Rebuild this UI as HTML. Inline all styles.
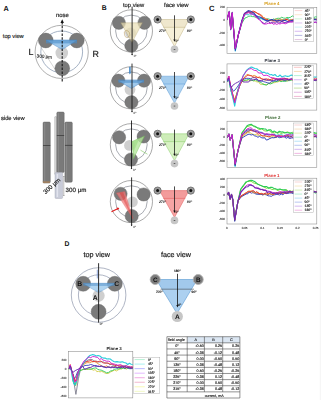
<!DOCTYPE html>
<html><head><meta charset="utf-8"><style>
html,body{margin:0;padding:0;background:#fff;width:324px;height:400px;overflow:hidden}
svg{position:absolute;left:0;top:0;display:block}
text{font-family:"Liberation Sans",sans-serif;paint-order:stroke;stroke:currentColor;text-rendering:geometricPrecision}
</style></head><body>
<div id="outer" style="position:absolute;left:0;top:0;width:324px;height:400px;overflow:hidden;filter:blur(0.3px)"><div id="wrap" style="position:absolute;left:0;top:0;width:1296px;height:1600px;transform:scale(0.25);transform-origin:0 0">
<svg width="1296" height="1600" viewBox="0 0 324 400">
<rect width="324" height="400" fill="#fff"/>
<text x="3.4" y="10.8" font-size="7.3" fill="#111" style="color:#111" stroke-width="0.000" text-anchor="start" font-weight="bold" >A</text>
<text x="101.8" y="10.1" font-size="6.8" fill="#111" style="color:#111" stroke-width="0.000" text-anchor="start" font-weight="bold" >B</text>
<text x="209.0" y="11.0" font-size="7.6" fill="#111" style="color:#111" stroke-width="0.000" text-anchor="start" font-weight="bold" >C</text>
<text x="64.6" y="245.6" font-size="6.8" fill="#111" style="color:#111" stroke-width="0.000" text-anchor="start" font-weight="bold" >D</text>
<text x="2.8" y="38.0" font-size="5.7" fill="#222" style="color:#222" stroke-width="0.171" text-anchor="start" font-weight="normal" >top view</text>
<circle cx="61.7" cy="51.9" r="26.6" fill="none" stroke="#8e8e8e" stroke-width="0.7"/>
<circle cx="61.7" cy="51.9" r="20.9" fill="none" stroke="#7e90aa" stroke-width="0.7"/>
<circle cx="61.8" cy="53" r="6.3" fill="#cfcfcf"/>
<line x1="40.3" y1="46.2" x2="55.2" y2="69.6" stroke="#888" stroke-width="0.35"/>
<circle cx="45.8" cy="40.5" r="7.4" fill="#7a7a7a" stroke="#666666" stroke-width="0.4"/>
<circle cx="76.8" cy="40.5" r="7.4" fill="#7a7a7a" stroke="#666666" stroke-width="0.4"/>
<circle cx="62.3" cy="68.3" r="7.4" fill="#7a7a7a" stroke="#666666" stroke-width="0.4"/>
<polygon points="46,40.2 77,40.2 62.2,49.6" fill="#8ebfe8" stroke="#3d7fc0" stroke-width="0.5" opacity="0.85"/>
<rect x="46" y="39.8" width="31" height="3.6" fill="#4a8cc8" opacity="0.6"/>
<line x1="62.2" y1="22" x2="62.2" y2="81.6" stroke="#111" stroke-width="1.05" stroke-dasharray="2.5 1.3"/>
<polygon points="60.5,23.0 63.9,23.0 62.2,19.2" fill="#111"/>
<text x="55.9" y="17.0" font-size="5.9" fill="#222" style="color:#222" stroke-width="0.177" text-anchor="start" font-weight="normal" >nose</text>
<text x="28.4" y="54.6" font-size="8.8" fill="#222" style="color:#222" stroke-width="0.200" text-anchor="start" font-weight="normal" >L</text>
<text x="92.4" y="56.6" font-size="8.8" fill="#222" style="color:#222" stroke-width="0.200" text-anchor="start" font-weight="normal" >R</text>
<text x="36.6" y="57.2" font-size="4.6" fill="#333" style="color:#333" stroke-width="0.138" text-anchor="start" font-weight="normal" transform="rotate(6 36.6 57.2)">300 μm</text>
<text x="1.0" y="120.1" font-size="5.75" fill="#222" style="color:#222" stroke-width="0.172" text-anchor="start" font-weight="normal" >side view</text>
<rect x="43.0" y="122.0" width="7.3" height="61.0" rx="1.2" fill="#7a7a7a" stroke="#5a5a5a" stroke-width="0.4"/>
<rect x="43.9" y="122.6" width="1.3" height="59.8" fill="#9a9a9a" opacity="0.45"/>
<line x1="43.0" y1="145.5" x2="50.3" y2="145.5" stroke="#333" stroke-width="0.7"/>
<rect x="64.9" y="122.0" width="7.4" height="60.19999999999999" rx="1.2" fill="#7a7a7a" stroke="#5a5a5a" stroke-width="0.4"/>
<rect x="65.80000000000001" y="122.6" width="1.3" height="58.999999999999986" fill="#9a9a9a" opacity="0.45"/>
<line x1="64.9" y1="145.4" x2="72.30000000000001" y2="145.4" stroke="#333" stroke-width="0.7"/>
<rect x="54.7" y="116.6" width="2.0" height="58" rx="0.6" fill="#d8d8d8" stroke="#8a8a8a" stroke-width="0.35"/>
<rect x="56.8" y="112.0" width="7.4" height="60.5" rx="1.2" fill="#7a7a7a" stroke="#5a5a5a" stroke-width="0.4"/>
<rect x="57.699999999999996" y="112.6" width="1.3" height="59.3" fill="#9a9a9a" opacity="0.45"/>
<line x1="56.8" y1="135.5" x2="64.2" y2="135.5" stroke="#333" stroke-width="0.7"/>
<rect x="55.0" y="172.5" width="7.6" height="26.0" rx="1" fill="#c9ccd9" stroke="#a0a2b0" stroke-width="0.4"/>
<rect x="56.6" y="174" width="1.5" height="23" fill="#e2e4ee"/>
<rect x="42.9" y="181.3" width="7.0" height="1.8" fill="#a08060"/>
<line x1="63.8" y1="176.5" x2="63.8" y2="195.5" stroke="#555" stroke-width="0.4"/>
<line x1="63.0" y1="176.5" x2="64.6" y2="176.5" stroke="#555" stroke-width="0.4"/>
<line x1="63.0" y1="195.5" x2="64.6" y2="195.5" stroke="#555" stroke-width="0.4"/>
<text x="65.6" y="192.2" font-size="6.2" fill="#222" style="color:#222" stroke-width="0.186" text-anchor="start" font-weight="normal" >300 μm</text>
<text x="45.6" y="194.2" font-size="6.1" fill="#222" style="color:#222" stroke-width="0.183" text-anchor="start" font-weight="normal" transform="rotate(-42 45.6 194.2)">300 μm</text>
<text x="123.0" y="6.6" font-size="5.8" fill="#222" style="color:#222" stroke-width="0.174" text-anchor="start" font-weight="normal" >top view</text>
<text x="164.0" y="6.5" font-size="5.9" fill="#222" style="color:#222" stroke-width="0.177" text-anchor="start" font-weight="normal" >face view</text>
<circle cx="131.4" cy="30.9" r="21.1" fill="none" stroke="#7a7a7a" stroke-width="0.65"/>
<circle cx="131.4" cy="30.9" r="15.8" fill="none" stroke="#7a7f8a" stroke-width="0.65"/>
<circle cx="130.5" cy="33.0" r="5.4" fill="#cfcfcf"/>
<circle cx="118.9" cy="22.799999999999997" r="6.6" fill="#7a7a7a" stroke="#666666" stroke-width="0.4"/>
<circle cx="144.4" cy="22.799999999999997" r="6.6" fill="#7a7a7a" stroke="#666666" stroke-width="0.4"/>
<circle cx="131.3" cy="45.7" r="6.6" fill="#7a7a7a" stroke="#666666" stroke-width="0.4"/>
<polygon points="120.8,22.799999999999997 142.4,22.799999999999997 132.0,42.4" fill="#eadfb4" stroke="#a89868" stroke-width="0.45" opacity="0.72"/>
<path d="M124.3,31.9 q2.5,-3 5,0.5 q2,3.5 -1.5,5 q-3.5,1 -3.5,-5.5" fill="none" stroke="#b09050" stroke-width="0.5"/>
<line x1="132.1" y1="6.6" x2="132.1" y2="54.5" stroke="#111" stroke-width="0.85"/>
<polygon points="131.2,54.099999999999994 133.0,54.099999999999994 132.1,55.5" fill="#111"/>
<text x="133.7" y="57.3" font-size="3.0" fill="#555" style="color:#555" stroke-width="0.100" text-anchor="start" font-weight="normal" >0°</text>
<polygon points="159.5,19.5 189.0,19.5 174.5,46.3" fill="#f6f0d8" stroke="#c0b080" stroke-width="0.5"/>
<polygon points="159.5,19.5 189.0,19.5 184.7,27.2 163.8,27.2" fill="#c0b080" opacity="0.12"/>
<line x1="163.2" y1="27.3" x2="185.3" y2="27.3" stroke="#c0b080" stroke-width="0.5"/>
<circle cx="157.6" cy="19.5" r="3.6" fill="#9c9c9c" stroke="#707070" stroke-width="0.9"/>
<circle cx="157.6" cy="19.5" r="1.5" fill="#111"/>
<circle cx="190.8" cy="19.5" r="3.6" fill="#9c9c9c" stroke="#707070" stroke-width="0.9"/>
<circle cx="190.8" cy="19.5" r="1.5" fill="#111"/>
<circle cx="174.5" cy="49.3" r="3.8" fill="#c6c6c6"/>
<rect x="173.7" y="49.0" width="1.6" height="0.7" fill="#333"/>
<line x1="174.5" y1="15.3" x2="174.5" y2="40.5" stroke="#111" stroke-width="0.75"/>
<polygon points="173.3,39.5 175.7,39.5 174.5,41.8" fill="#111"/>
<text x="158.9" y="32.1" font-size="3.5" fill="#111" style="color:#111" stroke-width="0.000" text-anchor="start" font-weight="bold" font-style="italic">270°</text>
<text x="186.8" y="32.1" font-size="3.5" fill="#111" style="color:#111" stroke-width="0.000" text-anchor="start" font-weight="bold" font-style="italic">90°</text>
<text x="175.4" y="42.1" font-size="3.4" fill="#111" style="color:#111" stroke-width="0.000" text-anchor="start" font-weight="bold" font-style="italic">0°</text>
<circle cx="131.4" cy="87.8" r="21.1" fill="none" stroke="#7a7a7a" stroke-width="0.65"/>
<circle cx="131.4" cy="87.8" r="15.8" fill="none" stroke="#7a7f8a" stroke-width="0.65"/>
<circle cx="130.0" cy="89.6" r="5.4" fill="#cfcfcf"/>
<circle cx="118.4" cy="80.7" r="6.6" fill="#7a7a7a" stroke="#666666" stroke-width="0.4"/>
<circle cx="144.0" cy="80.7" r="6.6" fill="#7a7a7a" stroke="#666666" stroke-width="0.4"/>
<circle cx="131.4" cy="102.2" r="6.6" fill="#7a7a7a" stroke="#666666" stroke-width="0.4"/>
<polygon points="118.4,80.7 144.0,80.7 131.4,88.39999999999999" fill="#8ebfe8" stroke="#3d7fc0" stroke-width="0.5" opacity="0.85"/>
<rect x="118.4" y="79.5" width="25.599999999999994" height="3.4" fill="#4a8cc8" opacity="0.55"/>
<line x1="129.9" y1="66.8" x2="129.9" y2="72.8" stroke="#4a8cc8" stroke-width="1.6"/>
<polygon points="128.6,72.3 131.2,72.3 129.9,74.39999999999999" fill="#4a8cc8"/>
<line x1="132.0" y1="63.599999999999994" x2="132.0" y2="111.4" stroke="#111" stroke-width="0.85"/>
<polygon points="131.1,111.0 132.9,111.0 132.0,112.4" fill="#111"/>
<text x="133.6" y="114.19999999999999" font-size="3.0" fill="#555" style="color:#555" stroke-width="0.100" text-anchor="start" font-weight="normal" >0°</text>
<polygon points="159.5,76.2 189.0,76.2 174.5,103.0" fill="#b0d4f2" stroke="#5a9ad4" stroke-width="0.5"/>
<polygon points="159.5,76.2 189.0,76.2 184.7,83.9 163.8,83.9" fill="#5a9ad4" opacity="0.12"/>
<line x1="163.2" y1="84.0" x2="185.3" y2="84.0" stroke="#5a9ad4" stroke-width="0.5"/>
<circle cx="157.6" cy="76.2" r="3.6" fill="#9c9c9c" stroke="#707070" stroke-width="0.9"/>
<circle cx="157.6" cy="76.2" r="1.5" fill="#111"/>
<circle cx="190.8" cy="76.2" r="3.6" fill="#9c9c9c" stroke="#707070" stroke-width="0.9"/>
<circle cx="190.8" cy="76.2" r="1.5" fill="#111"/>
<circle cx="174.5" cy="106.0" r="3.8" fill="#c6c6c6"/>
<rect x="173.7" y="105.7" width="1.6" height="0.7" fill="#333"/>
<line x1="174.5" y1="72.0" x2="174.5" y2="97.2" stroke="#111" stroke-width="0.75"/>
<polygon points="173.3,96.2 175.7,96.2 174.5,98.5" fill="#111"/>
<text x="158.9" y="88.8" font-size="3.5" fill="#111" style="color:#111" stroke-width="0.000" text-anchor="start" font-weight="bold" font-style="italic">270°</text>
<text x="186.8" y="88.8" font-size="3.5" fill="#111" style="color:#111" stroke-width="0.000" text-anchor="start" font-weight="bold" font-style="italic">90°</text>
<text x="175.4" y="98.80000000000001" font-size="3.4" fill="#111" style="color:#111" stroke-width="0.000" text-anchor="start" font-weight="bold" font-style="italic">0°</text>
<circle cx="131.4" cy="144.7" r="21.1" fill="none" stroke="#7a7a7a" stroke-width="0.65"/>
<circle cx="131.4" cy="144.7" r="15.8" fill="none" stroke="#7a7f8a" stroke-width="0.65"/>
<circle cx="129.5" cy="145.39999999999998" r="5.4" fill="#cfcfcf"/>
<circle cx="119.1" cy="137.29999999999998" r="6.6" fill="#7a7a7a" stroke="#666666" stroke-width="0.4"/>
<circle cx="143.6" cy="136.5" r="6.6" fill="#7a7a7a" stroke="#666666" stroke-width="0.4"/>
<circle cx="131.0" cy="159.5" r="6.6" fill="#7a7a7a" stroke="#666666" stroke-width="0.4"/>
<polygon points="132.2,141.5 144.5,135.89999999999998 133.4,158.89999999999998" fill="#b4e69c" stroke="#6cc04c" stroke-width="0.5" opacity="0.78"/>
<polygon points="132.2,141.5 139.5,138.2 133.0,153.2" fill="#8ed870" opacity="0.45"/>
<line x1="140.5" y1="150.2" x2="147.5" y2="154.2" stroke="#80c860" stroke-width="0.6"/>
<line x1="131.5" y1="120.49999999999999" x2="131.5" y2="168.29999999999998" stroke="#111" stroke-width="0.85"/>
<polygon points="130.6,167.89999999999998 132.4,167.89999999999998 131.5,169.29999999999998" fill="#111"/>
<text x="133.1" y="171.1" font-size="3.0" fill="#555" style="color:#555" stroke-width="0.100" text-anchor="start" font-weight="normal" >0°</text>
<polygon points="159.5,133.8 189.0,133.8 174.5,160.60000000000002" fill="#d8f2c4" stroke="#88cc68" stroke-width="0.5"/>
<polygon points="159.5,133.8 189.0,133.8 184.7,141.5 163.8,141.5" fill="#88cc68" opacity="0.12"/>
<line x1="163.2" y1="141.60000000000002" x2="185.3" y2="141.60000000000002" stroke="#88cc68" stroke-width="0.5"/>
<circle cx="157.6" cy="133.8" r="3.6" fill="#9c9c9c" stroke="#707070" stroke-width="0.9"/>
<circle cx="157.6" cy="133.8" r="1.5" fill="#111"/>
<circle cx="190.8" cy="133.8" r="3.6" fill="#9c9c9c" stroke="#707070" stroke-width="0.9"/>
<circle cx="190.8" cy="133.8" r="1.5" fill="#111"/>
<circle cx="174.5" cy="163.60000000000002" r="3.8" fill="#c6c6c6"/>
<rect x="173.7" y="163.3" width="1.6" height="0.7" fill="#333"/>
<line x1="174.5" y1="129.60000000000002" x2="174.5" y2="154.8" stroke="#111" stroke-width="0.75"/>
<polygon points="173.3,153.8 175.7,153.8 174.5,156.10000000000002" fill="#111"/>
<text x="158.9" y="146.4" font-size="3.5" fill="#111" style="color:#111" stroke-width="0.000" text-anchor="start" font-weight="bold" font-style="italic">270°</text>
<text x="186.8" y="146.4" font-size="3.5" fill="#111" style="color:#111" stroke-width="0.000" text-anchor="start" font-weight="bold" font-style="italic">90°</text>
<text x="175.4" y="156.4" font-size="3.4" fill="#111" style="color:#111" stroke-width="0.000" text-anchor="start" font-weight="bold" font-style="italic">0°</text>
<circle cx="131.4" cy="201.6" r="21.1" fill="none" stroke="#7a7a7a" stroke-width="0.65"/>
<circle cx="131.4" cy="201.6" r="15.8" fill="none" stroke="#7a7f8a" stroke-width="0.65"/>
<circle cx="132.4" cy="201.9" r="5.4" fill="#cfcfcf"/>
<circle cx="120.6" cy="193.79999999999998" r="6.6" fill="#7a7a7a" stroke="#666666" stroke-width="0.4"/>
<circle cx="143.6" cy="194.5" r="6.6" fill="#7a7a7a" stroke="#666666" stroke-width="0.4"/>
<circle cx="131.7" cy="216.0" r="6.6" fill="#7a7a7a" stroke="#666666" stroke-width="0.4"/>
<polygon points="116.4,193.0 124.8,191.6 133.0,218.79999999999998" fill="#f07a7a" stroke="#e04848" stroke-width="0.4" opacity="0.72"/>
<polygon points="119.5,192.79999999999998 123.2,192.2 132.6,218.1" fill="#d82020" opacity="0.35"/>
<line x1="111.5" y1="211.79999999999998" x2="117.6" y2="208.79999999999998" stroke="#e01818" stroke-width="1.1"/>
<polygon points="116.6,207.4 119.4,208.0 117.8,210.2" fill="#e01818"/>
<line x1="131.6" y1="177.4" x2="131.6" y2="225.2" stroke="#111" stroke-width="0.85"/>
<polygon points="130.7,224.79999999999998 132.5,224.79999999999998 131.6,226.2" fill="#111"/>
<text x="133.2" y="228.0" font-size="3.0" fill="#555" style="color:#555" stroke-width="0.100" text-anchor="start" font-weight="normal" >0°</text>
<polygon points="159.5,190.6 189.0,190.6 174.5,217.4" fill="#f6a4a4" stroke="#e05858" stroke-width="0.5"/>
<polygon points="159.5,190.6 189.0,190.6 184.7,198.29999999999998 163.8,198.29999999999998" fill="#e05858" opacity="0.12"/>
<line x1="163.2" y1="198.4" x2="185.3" y2="198.4" stroke="#e05858" stroke-width="0.5"/>
<circle cx="157.6" cy="190.6" r="3.6" fill="#9c9c9c" stroke="#707070" stroke-width="0.9"/>
<circle cx="157.6" cy="190.6" r="1.5" fill="#111"/>
<circle cx="190.8" cy="190.6" r="3.6" fill="#9c9c9c" stroke="#707070" stroke-width="0.9"/>
<circle cx="190.8" cy="190.6" r="1.5" fill="#111"/>
<circle cx="174.5" cy="220.4" r="3.8" fill="#c6c6c6"/>
<rect x="173.7" y="220.1" width="1.6" height="0.7" fill="#333"/>
<line x1="174.5" y1="186.4" x2="174.5" y2="211.6" stroke="#111" stroke-width="0.75"/>
<polygon points="173.3,210.6 175.7,210.6 174.5,212.9" fill="#111"/>
<text x="158.9" y="203.2" font-size="3.5" fill="#111" style="color:#111" stroke-width="0.000" text-anchor="start" font-weight="bold" font-style="italic">270°</text>
<text x="186.8" y="203.2" font-size="3.5" fill="#111" style="color:#111" stroke-width="0.000" text-anchor="start" font-weight="bold" font-style="italic">90°</text>
<text x="175.4" y="213.2" font-size="3.4" fill="#111" style="color:#111" stroke-width="0.000" text-anchor="start" font-weight="bold" font-style="italic">0°</text>
<line x1="320.3" y1="0" x2="320.3" y2="400" stroke="#ededed" stroke-width="0.6"/>
<rect x="227.0" y="7.3" width="89.80000000000001" height="46.300000000000004" fill="#fff" stroke="#8a8a8a" stroke-width="0.55"/>
<text x="225.0" y="8.35" font-size="3.0" fill="#333" style="color:#333" stroke-width="0.100" text-anchor="end" font-weight="normal" >200</text>
<line x1="227.0" y1="7.3" x2="227.8" y2="7.3" stroke="#999" stroke-width="0.3"/>
<text x="225.0" y="21.05" font-size="3.0" fill="#333" style="color:#333" stroke-width="0.100" text-anchor="end" font-weight="normal" >0</text>
<line x1="227.0" y1="20.0" x2="227.8" y2="20.0" stroke="#999" stroke-width="0.3"/>
<text x="225.0" y="33.65" font-size="3.0" fill="#333" style="color:#333" stroke-width="0.100" text-anchor="end" font-weight="normal" >-200</text>
<line x1="227.0" y1="32.6" x2="227.8" y2="32.6" stroke="#999" stroke-width="0.3"/>
<text x="225.0" y="46.349999999999994" font-size="3.0" fill="#333" style="color:#333" stroke-width="0.100" text-anchor="end" font-weight="normal" >-400</text>
<line x1="227.0" y1="45.3" x2="227.8" y2="45.3" stroke="#999" stroke-width="0.3"/>
<text x="264.2" y="4.9" font-size="4.4" fill="#d8a020" style="color:#d8a020" stroke-width="0.000" text-anchor="start" font-weight="bold" >Plane 4</text>
<clipPath id="p4"><rect x="227.0" y="7.3" width="89.80000000000001" height="46.300000000000004"/></clipPath>
<g clip-path="url(#p4)" fill="none" stroke-width="0.9" stroke-linejoin="round">
<path d="M227.00,19.50 L229.20,12.60 L230.70,28.40 L232.20,13.60 L235.30,48.10 L238.30,35.00 L240.15,29.00 L242.00,23.00 L245.00,18.00 L246.90,17.37 L248.80,16.21 L250.70,16.10 L252.33,16.59 L253.97,16.64 L255.60,17.30 L257.20,17.93 L258.80,18.40 L260.40,17.71 L262.00,19.00 L263.60,18.13 L265.20,19.87 L266.80,18.82 L268.40,18.87 L270.00,19.50 L271.62,20.24 L273.25,18.94 L274.88,19.42 L276.50,18.50 L278.25,18.26 L280.00,18.40 L281.75,17.23 L283.50,18.01 L285.25,18.29 L287.00,17.41 L288.75,17.65 L290.50,17.32 L292.25,15.92 L294.00,16.60 L295.64,17.15 L297.29,16.84 L298.93,16.29 L300.57,15.78 L302.21,17.47 L303.86,16.72 L305.50,17.24 L307.14,17.59 L308.79,17.29 L310.43,17.73 L312.07,16.70 L313.71,17.54 L315.36,16.86 L317.00,17.00" stroke="#22c852" stroke-width="0.9" opacity="0.95"/>
<path d="M227.00,19.50 L229.20,12.80 L230.70,28.20 L232.20,13.80 L235.30,51.30 L238.30,35.00 L240.15,28.50 L242.00,22.00 L244.50,15.00 L246.33,14.50 L248.17,14.87 L250.00,13.50 L251.60,14.96 L253.20,14.09 L254.80,14.87 L256.40,15.73 L258.00,17.00 L259.60,18.73 L261.20,18.47 L262.80,19.65 L264.40,19.80 L266.00,21.00 L267.75,20.76 L269.50,20.27 L271.25,19.95 L273.00,20.17 L274.75,19.92 L276.50,20.31 L278.25,19.61 L280.00,19.00 L281.61,19.86 L283.22,19.71 L284.83,19.98 L286.43,19.34 L288.04,18.33 L289.65,19.72 L291.26,19.93 L292.87,19.81 L294.48,19.14 L296.09,19.43 L297.70,18.42 L299.30,19.66 L300.91,19.15 L302.52,18.57 L304.13,18.13 L305.74,19.71 L307.35,19.98 L308.96,18.18 L310.57,19.60 L312.17,18.82 L313.78,18.30 L315.39,18.59 L317.00,19.00" stroke="#20c8d8" stroke-width="0.9" opacity="0.95"/>
<path d="M227.00,19.50 L229.20,11.50 L230.70,29.50 L232.20,12.50 L235.30,49.00 L238.30,35.00 L240.15,28.00 L242.00,21.00 L244.50,14.00 L246.25,13.00 L248.00,12.00 L250.00,12.54 L252.00,12.75 L254.00,12.00 L256.00,12.09 L258.00,14.23 L260.00,15.00 L261.60,15.09 L263.20,17.44 L264.80,17.66 L266.40,19.76 L268.00,20.00 L269.63,20.94 L271.27,19.98 L272.90,20.95 L274.53,19.55 L276.17,19.07 L277.80,20.10 L279.43,18.95 L281.07,19.26 L282.70,19.67 L284.33,20.05 L285.97,19.13 L287.60,18.88 L289.23,20.52 L290.87,19.39 L292.50,20.67 L294.13,20.53 L295.77,19.47 L297.40,19.62 L299.03,19.72 L300.67,19.95 L302.30,19.84 L303.93,19.75 L305.57,19.86 L307.20,20.48 L308.83,19.60 L310.47,19.43 L312.10,19.99 L313.73,19.01 L315.37,19.12 L317.00,19.50" stroke="#e88a20" stroke-width="0.9" opacity="0.95"/>
<path d="M227.00,19.50 L229.20,12.30 L230.70,28.70 L232.20,13.30 L235.30,48.90 L238.30,35.00 L240.15,28.00 L242.00,21.00 L244.50,13.60 L246.50,12.55 L248.50,11.50 L250.27,12.36 L252.03,11.34 L253.80,11.20 L255.90,12.50 L258.00,13.60 L259.85,14.15 L261.70,16.48 L263.55,18.33 L265.40,19.70 L267.00,18.96 L268.60,20.36 L270.20,20.61 L271.80,19.69 L273.40,21.04 L275.00,21.00 L276.73,20.84 L278.45,21.18 L280.18,20.43 L281.91,21.05 L283.64,21.02 L285.36,19.50 L287.09,19.48 L288.82,20.62 L290.55,21.11 L292.27,19.59 L294.00,20.00 L295.64,19.84 L297.29,20.04 L298.93,19.43 L300.57,19.44 L302.21,19.27 L303.86,19.31 L305.50,19.69 L307.14,19.03 L308.79,19.11 L310.43,19.83 L312.07,18.27 L313.71,19.28 L315.36,19.54 L317.00,19.00" stroke="#e82828" stroke-width="1.0" opacity="0.95"/>
<path d="M227.00,19.50 L229.20,11.40 L230.70,29.60 L232.20,12.40 L235.30,50.30 L238.30,35.00 L240.15,27.50 L242.00,20.00 L244.50,13.60 L246.35,12.10 L248.20,10.60 L250.10,10.92 L252.00,12.00 L254.00,12.98 L256.00,15.67 L258.00,16.60 L259.85,17.00 L261.70,17.82 L263.55,19.25 L265.40,20.30 L267.70,20.70 L270.00,20.30 L271.67,19.59 L273.33,20.11 L275.00,20.22 L276.67,21.30 L278.33,20.59 L280.00,20.80 L281.75,21.54 L283.50,20.19 L285.25,20.55 L287.00,21.20 L288.75,21.69 L290.50,20.85 L292.25,20.43 L294.00,21.00 L295.64,20.17 L297.29,20.92 L298.93,20.17 L300.57,21.33 L302.21,21.32 L303.86,19.94 L305.50,20.06 L307.14,21.04 L308.79,20.64 L310.43,20.90 L312.07,19.90 L313.71,19.40 L315.36,19.66 L317.00,20.00" stroke="#2a3ab8" stroke-width="1.1" opacity="0.95"/>
<path d="M227.00,19.50 L229.20,12.00 L230.70,29.00 L232.20,13.00 L235.30,48.70 L238.30,35.00 L240.15,28.00 L242.00,21.00 L244.50,13.00 L246.75,12.25 L249.00,11.50 L250.75,13.21 L252.50,13.29 L254.25,14.57 L256.00,16.00 L257.75,17.58 L259.50,19.34 L261.25,21.07 L263.00,23.00 L264.80,23.64 L266.60,21.91 L268.40,21.41 L270.20,23.09 L272.00,22.00 L273.64,22.76 L275.27,22.97 L276.91,21.87 L278.55,22.90 L280.18,22.85 L281.82,21.44 L283.45,22.49 L285.09,22.67 L286.73,22.33 L288.36,22.04 L290.00,22.00 L291.69,21.64 L293.38,21.81 L295.06,21.64 L296.75,21.39 L298.44,22.49 L300.12,21.95 L301.81,23.06 L303.50,21.59 L305.19,23.37 L306.88,23.01 L308.56,23.54 L310.25,23.54 L311.94,23.61 L313.62,23.03 L315.31,21.96 L317.00,23.00" stroke="#6a28b0" stroke-width="1.0" opacity="0.95"/>
<path d="M227.00,19.50 L229.20,11.70 L230.70,29.30 L232.20,12.70 L235.30,48.40 L238.30,35.00 L240.15,28.50 L242.00,22.00 L244.50,14.50 L246.75,13.50 L249.00,12.50 L250.75,14.12 L252.50,14.09 L254.25,15.47 L256.00,17.00 L257.64,18.73 L259.28,19.85 L260.92,21.03 L262.56,23.48 L264.20,24.00 L266.23,24.02 L268.27,23.28 L270.30,23.40 L271.92,23.00 L273.53,24.32 L275.15,23.65 L276.77,24.36 L278.38,23.60 L280.00,24.00 L281.90,23.09 L283.80,23.47 L285.70,23.73 L287.60,22.80 L289.73,21.54 L291.87,22.18 L294.00,21.00 L295.64,21.91 L297.29,21.75 L298.93,21.86 L300.57,20.30 L302.21,21.61 L303.86,22.15 L305.50,20.60 L307.14,21.11 L308.79,21.18 L310.43,21.77 L312.07,21.63 L313.71,21.80 L315.36,22.48 L317.00,22.00" stroke="#d020d0" stroke-width="1.0" opacity="0.95"/>
</g>
<rect x="293.6" y="8.5" width="20.19999999999999" height="33.1" fill="#fff" stroke="#a0a0a0" stroke-width="0.4"/>
<line x1="294.70000000000005" y1="10.56875" x2="302.286" y2="10.56875" stroke="#f0a0a0" stroke-width="0.45"/>
<text x="304.71000000000004" y="11.768749999999999" font-size="3.4" fill="#111" style="color:#111" stroke-width="0.140" text-anchor="start" font-weight="normal" >45°</text>
<line x1="294.70000000000005" y1="14.70625" x2="302.286" y2="14.70625" stroke="#f8c890" stroke-width="0.45"/>
<text x="304.71000000000004" y="15.90625" font-size="3.4" fill="#111" style="color:#111" stroke-width="0.140" text-anchor="start" font-weight="normal" >90°</text>
<line x1="294.70000000000005" y1="18.84375" x2="302.286" y2="18.84375" stroke="#90e8a0" stroke-width="0.45"/>
<text x="304.71000000000004" y="20.04375" font-size="3.4" fill="#111" style="color:#111" stroke-width="0.140" text-anchor="start" font-weight="normal" >135°</text>
<line x1="294.70000000000005" y1="22.981250000000003" x2="302.286" y2="22.981250000000003" stroke="#b080e0" stroke-width="0.45"/>
<text x="304.71000000000004" y="24.181250000000002" font-size="3.4" fill="#111" style="color:#111" stroke-width="0.140" text-anchor="start" font-weight="normal" >180°</text>
<line x1="294.70000000000005" y1="27.118750000000002" x2="302.286" y2="27.118750000000002" stroke="#90e8f0" stroke-width="0.45"/>
<text x="304.71000000000004" y="28.31875" font-size="3.4" fill="#111" style="color:#111" stroke-width="0.140" text-anchor="start" font-weight="normal" >225°</text>
<line x1="294.70000000000005" y1="31.25625" x2="302.286" y2="31.25625" stroke="#a060e0" stroke-width="0.45"/>
<text x="304.71000000000004" y="32.456250000000004" font-size="3.4" fill="#111" style="color:#111" stroke-width="0.140" text-anchor="start" font-weight="normal" >270°</text>
<line x1="294.70000000000005" y1="35.39375" x2="302.286" y2="35.39375" stroke="#6060c0" stroke-width="0.45"/>
<text x="304.71000000000004" y="36.59375" font-size="3.4" fill="#111" style="color:#111" stroke-width="0.140" text-anchor="start" font-weight="normal" >315°</text>
<line x1="294.70000000000005" y1="39.53125" x2="302.286" y2="39.53125" stroke="#c080c0" stroke-width="0.45"/>
<text x="304.71000000000004" y="40.73125" font-size="3.4" fill="#111" style="color:#111" stroke-width="0.140" text-anchor="start" font-weight="normal" >0°</text>
<rect x="227.0" y="63.9" width="89.80000000000001" height="46.199999999999996" fill="#fff" stroke="#8a8a8a" stroke-width="0.55"/>
<text x="225.0" y="74.05" font-size="3.0" fill="#333" style="color:#333" stroke-width="0.100" text-anchor="end" font-weight="normal" >200</text>
<line x1="227.0" y1="73.0" x2="227.8" y2="73.0" stroke="#999" stroke-width="0.3"/>
<text x="225.0" y="82.64999999999999" font-size="3.0" fill="#333" style="color:#333" stroke-width="0.100" text-anchor="end" font-weight="normal" >0</text>
<line x1="227.0" y1="81.6" x2="227.8" y2="81.6" stroke="#999" stroke-width="0.3"/>
<text x="225.0" y="91.45" font-size="3.0" fill="#333" style="color:#333" stroke-width="0.100" text-anchor="end" font-weight="normal" >-200</text>
<line x1="227.0" y1="90.4" x2="227.8" y2="90.4" stroke="#999" stroke-width="0.3"/>
<text x="225.0" y="100.45" font-size="3.0" fill="#333" style="color:#333" stroke-width="0.100" text-anchor="end" font-weight="normal" >-400</text>
<line x1="227.0" y1="99.4" x2="227.8" y2="99.4" stroke="#999" stroke-width="0.3"/>
<text x="225.0" y="109.35" font-size="3.0" fill="#333" style="color:#333" stroke-width="0.100" text-anchor="end" font-weight="normal" >-600</text>
<line x1="227.0" y1="108.3" x2="227.8" y2="108.3" stroke="#999" stroke-width="0.3"/>
<text x="264.5" y="62.3" font-size="4.4" fill="#2a2f3a" style="color:#2a2f3a" stroke-width="0.000" text-anchor="start" font-weight="bold" >Plane 3</text>
<clipPath id="p3"><rect x="227.0" y="63.9" width="89.80000000000001" height="46.199999999999996"/></clipPath>
<g clip-path="url(#p3)" fill="none" stroke-width="0.9" stroke-linejoin="round">
<path d="M227.00,82.00 L229.00,80.00 L230.80,90.00 L232.80,96.00 L234.50,101.00 L236.00,96.00 L238.00,89.00 L241.20,82.00 L243.10,81.25 L245.00,80.50 L246.67,80.67 L248.33,79.84 L250.00,81.00 L251.75,80.36 L253.50,80.75 L255.25,81.00 L257.00,82.00 L258.60,81.74 L260.20,84.15 L261.80,84.51 L263.40,83.57 L265.00,85.00 L266.83,84.50 L268.67,83.63 L270.50,83.13 L272.33,82.70 L274.17,82.79 L276.00,82.00 L277.67,81.95 L279.33,81.28 L281.00,80.72 L282.67,80.77 L284.33,80.14 L286.00,80.78 L287.67,80.88 L289.33,79.98 L291.00,80.00 L292.62,79.16 L294.25,79.36 L295.88,79.75 L297.50,80.21 L299.12,80.57 L300.75,79.76 L302.38,80.60 L304.00,80.25 L305.62,79.86 L307.25,79.74 L308.88,79.99 L310.50,80.41 L312.12,79.84 L313.75,80.39 L315.38,79.92 L317.00,80.00" stroke="#d0c838" stroke-width="0.9" opacity="0.95"/>
<path d="M227.00,82.00 L229.00,80.00 L230.80,90.00 L232.80,97.00 L234.50,103.00 L236.00,97.00 L238.00,90.00 L241.20,82.00 L243.10,81.00 L245.00,80.00 L246.67,80.00 L248.33,79.49 L250.00,80.00 L251.82,80.27 L253.65,80.79 L255.48,79.74 L257.30,80.80 L259.23,81.62 L261.15,82.60 L263.07,84.48 L265.00,84.70 L266.82,85.06 L268.63,83.42 L270.45,83.95 L272.27,83.22 L274.08,81.64 L275.90,81.60 L277.58,81.35 L279.26,80.49 L280.93,81.69 L282.61,81.21 L284.29,81.49 L285.97,81.12 L287.64,80.69 L289.32,80.65 L291.00,80.00 L292.62,80.13 L294.25,79.21 L295.88,80.18 L297.50,79.01 L299.12,79.29 L300.75,80.55 L302.38,79.09 L304.00,79.18 L305.62,79.20 L307.25,80.76 L308.88,79.36 L310.50,79.05 L312.12,80.68 L313.75,79.24 L315.38,80.69 L317.00,80.00" stroke="#22c852" stroke-width="0.9" opacity="0.95"/>
<path d="M227.00,81.40 L229.00,78.00 L230.50,86.00 L233.00,95.00 L234.70,100.00 L237.00,93.00 L240.00,85.00 L243.00,79.00 L245.00,76.65 L247.00,74.30 L248.82,74.92 L250.65,75.52 L252.48,76.03 L254.30,75.40 L256.08,76.32 L257.87,77.53 L259.65,76.77 L261.43,79.00 L263.22,79.26 L265.00,80.00 L266.67,80.26 L268.33,78.88 L270.00,80.00 L271.67,80.20 L273.33,78.29 L275.00,79.00 L276.60,78.70 L278.20,79.23 L279.80,79.81 L281.40,78.68 L283.00,78.61 L284.60,78.80 L286.20,79.58 L287.80,79.91 L289.40,79.24 L291.00,79.50 L292.62,79.27 L294.25,79.36 L295.88,79.29 L297.50,79.46 L299.12,78.82 L300.75,79.69 L302.38,80.66 L304.00,79.58 L305.62,80.28 L307.25,79.13 L308.88,80.23 L310.50,80.39 L312.12,80.25 L313.75,79.97 L315.38,79.94 L317.00,80.00" stroke="#e88a20" stroke-width="0.9" opacity="0.95"/>
<path d="M227.00,81.40 L228.90,79.00 L230.50,86.00 L233.40,91.20 L235.00,90.00 L238.00,86.00 L241.00,81.00 L243.00,79.75 L245.00,78.50 L246.93,78.30 L248.85,78.39 L250.77,78.69 L252.70,77.70 L254.50,77.65 L256.30,78.19 L258.10,80.15 L259.90,81.13 L261.70,80.98 L263.50,81.60 L265.75,82.19 L268.00,83.00 L269.71,83.01 L271.43,81.52 L273.14,81.25 L274.86,80.68 L276.57,81.03 L278.29,80.06 L280.00,80.00 L281.83,79.38 L283.67,80.22 L285.50,80.66 L287.33,79.26 L289.17,79.99 L291.00,79.50 L292.62,79.36 L294.25,80.27 L295.88,79.76 L297.50,79.16 L299.12,79.09 L300.75,78.73 L302.38,79.68 L304.00,79.52 L305.62,79.13 L307.25,79.53 L308.88,79.49 L310.50,80.42 L312.12,79.19 L313.75,80.92 L315.38,79.93 L317.00,80.00" stroke="#2a3ab8" stroke-width="0.9" opacity="0.95"/>
<path d="M227.00,81.00 L228.90,76.20 L230.50,86.00 L233.40,97.00 L234.70,102.00 L237.30,93.00 L239.90,85.00 L243.00,79.00 L244.67,77.67 L246.33,76.33 L248.00,75.00 L249.60,75.60 L251.20,75.74 L252.80,76.87 L254.40,77.24 L256.00,77.00 L257.80,77.51 L259.60,77.76 L261.40,78.64 L263.20,79.31 L265.00,79.00 L266.62,78.82 L268.25,79.50 L269.88,79.98 L271.50,79.01 L273.12,78.55 L274.75,78.58 L276.38,79.57 L278.00,79.50 L279.62,80.09 L281.25,79.90 L282.88,78.69 L284.50,78.60 L286.12,78.76 L287.75,78.64 L289.38,79.69 L291.00,79.30 L292.62,80.00 L294.25,80.06 L295.88,78.75 L297.50,79.96 L299.12,78.83 L300.75,79.03 L302.38,79.63 L304.00,78.32 L305.62,78.32 L307.25,79.78 L308.88,78.68 L310.50,78.79 L312.12,79.22 L313.75,79.39 L315.38,78.03 L317.00,79.00" stroke="#e82828" stroke-width="0.9" opacity="0.95"/>
<path d="M227.00,81.40 L228.90,79.00 L230.80,89.90 L232.80,97.70 L234.70,106.10 L236.00,99.00 L238.00,89.90 L241.20,80.80 L243.20,76.00 L244.80,73.20 L246.40,70.40 L248.80,68.37 L251.20,67.00 L253.04,67.63 L254.88,68.49 L256.72,68.70 L258.56,70.21 L260.40,70.80 L262.26,72.49 L264.12,72.14 L265.98,73.23 L267.84,73.16 L269.70,74.70 L271.44,74.44 L273.18,75.41 L274.91,74.49 L276.65,76.22 L278.39,76.46 L280.12,75.02 L281.86,76.90 L283.60,76.20 L285.44,75.79 L287.28,76.42 L289.12,76.23 L290.96,75.15 L292.80,75.40 L294.41,75.86 L296.03,75.92 L297.64,76.33 L299.25,75.36 L300.87,76.44 L302.48,76.96 L304.09,76.49 L305.71,76.33 L307.32,75.59 L308.93,76.45 L310.55,76.28 L312.16,77.12 L313.77,77.14 L315.39,77.03 L317.00,77.00" stroke="#20c8d8" stroke-width="1.1" opacity="0.95"/>
<path d="M227.00,81.40 L228.90,76.20 L230.50,86.00 L233.40,97.70 L234.70,102.90 L237.30,93.80 L239.90,84.70 L241.55,80.15 L243.20,75.60 L244.80,73.30 L246.40,71.00 L248.80,69.11 L251.20,68.50 L252.92,69.65 L254.65,70.49 L256.38,70.45 L258.10,72.73 L259.82,73.12 L261.55,72.92 L263.27,75.40 L265.00,75.40 L266.82,75.20 L268.63,76.10 L270.45,77.39 L272.27,77.66 L274.08,78.09 L275.90,78.50 L277.61,78.88 L279.32,78.59 L281.03,78.39 L282.74,78.21 L284.46,78.08 L286.17,79.47 L287.88,79.63 L289.59,79.30 L291.30,79.30 L292.91,79.82 L294.51,79.11 L296.12,78.96 L297.73,79.24 L299.33,80.26 L300.94,78.65 L302.54,79.62 L304.15,79.14 L305.76,80.23 L307.36,79.45 L308.97,79.45 L310.57,79.63 L312.18,79.95 L313.79,80.46 L315.39,79.66 L317.00,80.00" stroke="#d020d0" stroke-width="1.0" opacity="0.95"/>
<path d="M227.00,81.40 L228.50,78.00 L230.20,84.70 L231.50,87.30 L232.80,85.30 L235.40,83.40 L237.35,82.40 L239.30,81.40 L241.20,79.50 L243.20,82.00 L245.10,82.00 L247.00,82.00 L248.67,82.03 L250.33,79.89 L252.00,80.00 L253.60,79.64 L255.20,79.40 L256.80,79.53 L258.40,80.96 L260.00,80.50 L261.67,80.87 L263.33,79.70 L265.00,79.63 L266.67,80.00 L268.33,80.57 L270.00,80.00 L271.67,80.57 L273.33,80.38 L275.00,80.01 L276.67,79.06 L278.33,79.51 L280.00,79.04 L281.67,79.65 L283.33,79.67 L285.00,78.88 L286.67,78.92 L288.33,79.92 L290.00,79.30 L291.69,78.40 L293.38,79.99 L295.06,80.21 L296.75,80.37 L298.44,79.29 L300.12,79.67 L301.81,79.77 L303.50,79.92 L305.19,80.65 L306.88,80.11 L308.56,79.38 L310.25,80.55 L311.94,79.84 L313.62,80.12 L315.31,80.41 L317.00,80.00" stroke="#6a28b0" stroke-width="1.0" opacity="0.95"/>
</g>
<rect x="292.8" y="65.2" width="20.80000000000001" height="33.3" fill="#fff" stroke="#a0a0a0" stroke-width="0.4"/>
<line x1="293.90000000000003" y1="67.28125" x2="301.744" y2="67.28125" stroke="#f08080" stroke-width="0.45"/>
<text x="304.24" y="68.48125" font-size="3.4" fill="#111" style="color:#111" stroke-width="0.140" text-anchor="start" font-weight="normal" >225°</text>
<line x1="293.90000000000003" y1="71.44375000000001" x2="301.744" y2="71.44375000000001" stroke="#f0b060" stroke-width="0.45"/>
<text x="304.24" y="72.64375000000001" font-size="3.4" fill="#111" style="color:#111" stroke-width="0.140" text-anchor="start" font-weight="normal" >270°</text>
<line x1="293.90000000000003" y1="75.60625" x2="301.744" y2="75.60625" stroke="#60e0a0" stroke-width="0.45"/>
<text x="304.24" y="76.80625" font-size="3.4" fill="#111" style="color:#111" stroke-width="0.140" text-anchor="start" font-weight="normal" >315°</text>
<line x1="293.90000000000003" y1="79.76875" x2="301.744" y2="79.76875" stroke="#a060e0" stroke-width="0.45"/>
<text x="304.24" y="80.96875" font-size="3.4" fill="#111" style="color:#111" stroke-width="0.140" text-anchor="start" font-weight="normal" >0°</text>
<line x1="293.90000000000003" y1="83.93125" x2="301.744" y2="83.93125" stroke="#60a0f0" stroke-width="0.45"/>
<text x="304.24" y="85.13125000000001" font-size="3.4" fill="#111" style="color:#111" stroke-width="0.140" text-anchor="start" font-weight="normal" >45°</text>
<line x1="293.90000000000003" y1="88.09375" x2="301.744" y2="88.09375" stroke="#80c040" stroke-width="0.45"/>
<text x="304.24" y="89.29375" font-size="3.4" fill="#111" style="color:#111" stroke-width="0.140" text-anchor="start" font-weight="normal" >90°</text>
<line x1="293.90000000000003" y1="92.25625" x2="301.744" y2="92.25625" stroke="#c060c0" stroke-width="0.45"/>
<text x="304.24" y="93.45625" font-size="3.4" fill="#111" style="color:#111" stroke-width="0.140" text-anchor="start" font-weight="normal" >135°</text>
<line x1="293.90000000000003" y1="96.41875" x2="301.744" y2="96.41875" stroke="#e060a0" stroke-width="0.45"/>
<text x="304.24" y="97.61875" font-size="3.4" fill="#111" style="color:#111" stroke-width="0.140" text-anchor="start" font-weight="normal" >180°</text>
<rect x="227.0" y="121.2" width="89.80000000000001" height="46.2" fill="#fff" stroke="#8a8a8a" stroke-width="0.55"/>
<text x="225.0" y="130.05" font-size="3.0" fill="#333" style="color:#333" stroke-width="0.100" text-anchor="end" font-weight="normal" >200</text>
<line x1="227.0" y1="129.0" x2="227.8" y2="129.0" stroke="#999" stroke-width="0.3"/>
<text x="225.0" y="138.25" font-size="3.0" fill="#333" style="color:#333" stroke-width="0.100" text-anchor="end" font-weight="normal" >0</text>
<line x1="227.0" y1="137.2" x2="227.8" y2="137.2" stroke="#999" stroke-width="0.3"/>
<text x="225.0" y="146.35000000000002" font-size="3.0" fill="#333" style="color:#333" stroke-width="0.100" text-anchor="end" font-weight="normal" >-200</text>
<line x1="227.0" y1="145.3" x2="227.8" y2="145.3" stroke="#999" stroke-width="0.3"/>
<text x="225.0" y="154.15" font-size="3.0" fill="#333" style="color:#333" stroke-width="0.100" text-anchor="end" font-weight="normal" >-400</text>
<line x1="227.0" y1="153.1" x2="227.8" y2="153.1" stroke="#999" stroke-width="0.3"/>
<text x="225.0" y="162.45000000000002" font-size="3.0" fill="#333" style="color:#333" stroke-width="0.100" text-anchor="end" font-weight="normal" >-600</text>
<line x1="227.0" y1="161.4" x2="227.8" y2="161.4" stroke="#999" stroke-width="0.3"/>
<text x="265.0" y="119.3" font-size="4.4" fill="#3c6a34" style="color:#3c6a34" stroke-width="0.000" text-anchor="start" font-weight="bold" >Plane 2</text>
<clipPath id="p2"><rect x="227.0" y="121.2" width="89.80000000000001" height="46.2"/></clipPath>
<g clip-path="url(#p2)" fill="none" stroke-width="0.9" stroke-linejoin="round">
<path d="M227.30,137.50 L228.90,134.70 L230.20,139.50 L232.10,135.40 L235.10,164.70 L238.00,150.50 L239.95,143.75 L241.90,137.00 L243.60,135.67 L245.30,134.33 L247.00,133.00 L249.10,132.20 L251.20,133.40 L252.92,134.39 L254.65,134.62 L256.38,134.73 L258.10,135.25 L259.82,135.57 L261.55,135.49 L263.27,136.61 L265.00,137.00 L266.67,136.02 L268.33,136.89 L270.00,137.13 L271.67,136.67 L273.33,136.85 L275.00,137.58 L276.67,137.40 L278.33,135.83 L280.00,136.50 L281.61,137.08 L283.22,136.75 L284.83,135.60 L286.43,136.22 L288.04,135.97 L289.65,135.66 L291.26,136.58 L292.87,137.36 L294.48,136.15 L296.09,137.24 L297.70,136.89 L299.30,135.77 L300.91,137.22 L302.52,136.70 L304.13,137.35 L305.74,136.93 L307.35,136.98 L308.96,136.19 L310.57,137.11 L312.17,137.36 L313.78,137.22 L315.39,136.37 L317.00,136.50" stroke="#d0c838" stroke-width="0.9" opacity="0.95"/>
<path d="M227.30,137.50 L228.90,135.00 L230.20,139.20 L232.10,135.70 L235.10,166.70 L238.00,150.50 L239.95,142.75 L241.90,135.00 L243.60,133.67 L245.30,132.33 L247.00,131.00 L249.00,131.01 L251.00,130.00 L252.75,130.47 L254.50,130.22 L256.25,130.59 L258.00,131.16 L259.75,131.90 L261.50,132.32 L263.25,133.49 L265.00,134.00 L266.67,134.51 L268.33,134.30 L270.00,134.18 L271.67,134.74 L273.33,134.16 L275.00,134.60 L276.67,135.29 L278.33,134.69 L280.00,135.00 L281.61,134.36 L283.22,135.80 L284.83,135.44 L286.43,134.73 L288.04,134.74 L289.65,135.06 L291.26,135.19 L292.87,134.45 L294.48,134.01 L296.09,134.42 L297.70,135.57 L299.30,134.29 L300.91,134.92 L302.52,134.39 L304.13,134.42 L305.74,134.34 L307.35,134.81 L308.96,134.34 L310.57,134.05 L312.17,134.22 L313.78,134.34 L315.39,134.98 L317.00,135.00" stroke="#20c8d8" stroke-width="0.9" opacity="0.95"/>
<path d="M227.30,137.50 L228.90,133.60 L230.20,140.60 L232.10,134.30 L235.10,165.70 L238.00,150.50 L239.95,144.25 L241.90,138.00 L243.60,136.97 L245.30,135.93 L247.00,134.90 L249.10,134.07 L251.20,135.00 L252.88,134.50 L254.56,135.82 L256.24,136.20 L257.92,137.25 L259.60,136.40 L261.28,137.57 L262.96,138.01 L264.64,137.73 L266.32,140.07 L268.00,139.60 L269.98,138.46 L271.95,137.64 L273.92,137.82 L275.90,137.30 L277.61,136.71 L279.32,137.70 L281.03,137.23 L282.74,136.86 L284.46,136.79 L286.17,138.22 L287.88,137.39 L289.59,138.50 L291.30,138.00 L292.91,137.90 L294.51,138.80 L296.12,137.51 L297.73,137.37 L299.33,137.38 L300.94,138.44 L302.54,138.04 L304.15,137.44 L305.76,136.91 L307.36,138.05 L308.97,138.59 L310.57,137.81 L312.18,136.60 L313.79,136.62 L315.39,136.71 L317.00,137.50" stroke="#2a3ab8" stroke-width="1.0" opacity="0.95"/>
<path d="M227.30,137.50 L228.90,134.50 L230.20,139.70 L232.10,135.20 L235.10,164.30 L238.00,150.50 L239.95,143.25 L241.90,136.00 L243.60,134.67 L245.30,133.33 L247.00,132.00 L248.90,131.01 L250.80,130.41 L252.70,131.00 L254.50,130.89 L256.30,132.88 L258.10,134.15 L259.90,133.53 L261.70,135.86 L263.50,135.70 L265.15,135.68 L266.80,136.37 L268.45,136.62 L270.10,136.70 L271.75,134.92 L273.40,135.49 L275.05,136.12 L276.70,136.83 L278.35,135.15 L280.00,136.00 L281.61,135.59 L283.22,136.70 L284.83,135.23 L286.43,135.78 L288.04,135.67 L289.65,136.36 L291.26,136.86 L292.87,135.35 L294.48,136.48 L296.09,136.47 L297.70,136.67 L299.30,136.11 L300.91,136.85 L302.52,135.73 L304.13,135.83 L305.74,135.46 L307.35,136.56 L308.96,135.96 L310.57,135.54 L312.17,135.34 L313.78,136.44 L315.39,136.21 L317.00,136.00" stroke="#e82828" stroke-width="0.9" opacity="0.95"/>
<path d="M227.30,137.50 L228.90,133.80 L230.20,140.40 L232.10,134.50 L235.10,163.10 L238.00,150.50 L239.95,141.75 L241.90,133.00 L243.60,130.83 L245.30,128.67 L247.00,126.50 L249.00,126.17 L251.00,125.00 L252.80,125.67 L254.60,126.77 L256.40,127.01 L258.20,129.02 L260.00,129.50 L261.60,128.85 L263.20,130.03 L264.80,130.92 L266.40,131.05 L268.00,130.19 L269.60,130.77 L271.20,132.29 L272.80,132.18 L274.40,132.96 L276.00,132.50 L277.64,133.28 L279.28,132.48 L280.92,133.41 L282.56,133.13 L284.20,132.37 L285.84,132.48 L287.48,131.92 L289.12,132.62 L290.76,133.77 L292.40,132.11 L294.04,133.08 L295.68,132.20 L297.32,132.18 L298.96,133.36 L300.60,132.58 L302.24,132.24 L303.88,132.49 L305.52,133.51 L307.16,133.43 L308.80,132.32 L310.44,132.80 L312.08,134.31 L313.72,132.86 L315.36,133.58 L317.00,133.50" stroke="#7ed838" stroke-width="1.0" opacity="0.95"/>
<path d="M227.30,137.50 L228.90,134.80 L230.20,139.40 L232.10,135.50 L235.10,163.50 L238.00,150.50 L239.95,141.75 L241.90,133.00 L243.60,130.60 L245.30,128.20 L247.00,125.80 L249.10,124.84 L251.20,124.20 L253.04,125.68 L254.88,126.25 L256.72,127.54 L258.56,127.95 L260.40,128.80 L262.12,128.52 L263.84,128.84 L265.57,128.99 L267.29,130.83 L269.01,129.75 L270.73,129.91 L272.46,132.14 L274.18,130.95 L275.90,131.90 L277.61,132.78 L279.32,131.25 L281.03,132.10 L282.74,131.70 L284.46,133.00 L286.17,132.66 L287.88,132.81 L289.59,133.13 L291.30,132.70 L292.91,133.46 L294.51,132.43 L296.12,132.96 L297.73,132.67 L299.33,132.02 L300.94,133.48 L302.54,133.02 L304.15,133.48 L305.76,132.28 L307.36,132.97 L308.97,132.83 L310.57,133.38 L312.18,132.10 L313.79,132.65 L315.39,132.95 L317.00,133.00" stroke="#22c852" stroke-width="1.1" opacity="0.95"/>
<path d="M227.30,137.50 L228.90,134.20 L230.20,140.00 L232.10,134.90 L235.10,164.10 L238.00,150.50 L239.95,142.75 L241.90,135.00 L243.60,133.33 L245.30,131.67 L247.00,130.00 L249.60,129.60 L251.27,129.23 L252.95,130.69 L254.62,131.54 L256.29,131.41 L257.96,132.35 L259.64,132.76 L261.31,132.46 L262.98,133.23 L264.65,135.01 L266.33,134.18 L268.00,135.00 L269.66,134.97 L271.33,134.38 L272.99,134.76 L274.66,134.76 L276.32,136.40 L277.99,136.10 L279.65,136.50 L281.31,136.83 L282.98,136.19 L284.64,136.93 L286.31,136.25 L287.97,136.12 L289.64,137.29 L291.30,136.50 L292.91,137.27 L294.51,137.34 L296.12,136.37 L297.73,136.92 L299.33,136.16 L300.94,137.31 L302.54,137.12 L304.15,135.83 L305.76,137.09 L307.36,135.56 L308.97,135.35 L310.57,136.57 L312.18,135.68 L313.79,136.10 L315.39,136.31 L317.00,136.00" stroke="#6a28b0" stroke-width="1.0" opacity="0.95"/>
<path d="M227.30,137.50 L228.90,133.90 L230.20,140.30 L232.10,134.60 L235.10,163.80 L238.00,150.50 L239.95,142.25 L241.90,134.00 L243.60,132.33 L245.30,130.67 L247.00,129.00 L249.60,128.00 L251.31,127.77 L253.02,129.87 L254.73,129.62 L256.44,130.62 L258.16,131.13 L259.87,132.62 L261.58,133.32 L263.29,133.09 L265.00,134.20 L266.75,133.59 L268.50,134.17 L270.25,134.58 L272.00,134.11 L273.75,134.44 L275.50,135.85 L277.25,135.91 L279.00,135.70 L280.76,136.55 L282.51,136.46 L284.27,136.15 L286.03,135.05 L287.79,134.52 L289.54,134.72 L291.30,135.00 L292.91,134.93 L294.51,135.05 L296.12,135.08 L297.73,134.72 L299.33,135.71 L300.94,134.57 L302.54,134.93 L304.15,135.77 L305.76,135.61 L307.36,134.59 L308.97,134.49 L310.57,135.61 L312.18,134.02 L313.79,134.26 L315.39,135.06 L317.00,135.00" stroke="#d020d0" stroke-width="1.0" opacity="0.95"/>
</g>
<rect x="293.3" y="123.0" width="20.30000000000001" height="32.400000000000006" fill="#fff" stroke="#a0a0a0" stroke-width="0.4"/>
<line x1="294.40000000000003" y1="125.025" x2="302.029" y2="125.025" stroke="#f0a0a0" stroke-width="0.45"/>
<text x="304.46500000000003" y="126.22500000000001" font-size="3.4" fill="#111" style="color:#111" stroke-width="0.140" text-anchor="start" font-weight="normal" >135°</text>
<line x1="294.40000000000003" y1="129.075" x2="302.029" y2="129.075" stroke="#f0c080" stroke-width="0.45"/>
<text x="304.46500000000003" y="130.27499999999998" font-size="3.4" fill="#111" style="color:#111" stroke-width="0.140" text-anchor="start" font-weight="normal" >180°</text>
<line x1="294.40000000000003" y1="133.125" x2="302.029" y2="133.125" stroke="#c0e060" stroke-width="0.45"/>
<text x="304.46500000000003" y="134.325" font-size="3.4" fill="#111" style="color:#111" stroke-width="0.140" text-anchor="start" font-weight="normal" >225°</text>
<line x1="294.40000000000003" y1="137.175" x2="302.029" y2="137.175" stroke="#60e0a0" stroke-width="0.45"/>
<text x="304.46500000000003" y="138.375" font-size="3.4" fill="#111" style="color:#111" stroke-width="0.140" text-anchor="start" font-weight="normal" >0°</text>
<line x1="294.40000000000003" y1="141.225" x2="302.029" y2="141.225" stroke="#60c0f0" stroke-width="0.45"/>
<text x="304.46500000000003" y="142.42499999999998" font-size="3.4" fill="#111" style="color:#111" stroke-width="0.140" text-anchor="start" font-weight="normal" >45°</text>
<line x1="294.40000000000003" y1="145.275" x2="302.029" y2="145.275" stroke="#6080e0" stroke-width="0.45"/>
<text x="304.46500000000003" y="146.475" font-size="3.4" fill="#111" style="color:#111" stroke-width="0.140" text-anchor="start" font-weight="normal" >90°</text>
<line x1="294.40000000000003" y1="149.325" x2="302.029" y2="149.325" stroke="#a060e0" stroke-width="0.45"/>
<text x="304.46500000000003" y="150.52499999999998" font-size="3.4" fill="#111" style="color:#111" stroke-width="0.140" text-anchor="start" font-weight="normal" >315°</text>
<line x1="294.40000000000003" y1="153.375" x2="302.029" y2="153.375" stroke="#e060c0" stroke-width="0.45"/>
<text x="304.46500000000003" y="154.575" font-size="3.4" fill="#111" style="color:#111" stroke-width="0.140" text-anchor="start" font-weight="normal" >180°</text>
<rect x="227.0" y="178.2" width="89.80000000000001" height="45.80000000000001" fill="#fff" stroke="#8a8a8a" stroke-width="0.55"/>
<text x="225.0" y="179.95000000000002" font-size="3.0" fill="#333" style="color:#333" stroke-width="0.100" text-anchor="end" font-weight="normal" >400</text>
<line x1="227.0" y1="178.9" x2="227.8" y2="178.9" stroke="#999" stroke-width="0.3"/>
<text x="225.0" y="188.25" font-size="3.0" fill="#333" style="color:#333" stroke-width="0.100" text-anchor="end" font-weight="normal" >200</text>
<line x1="227.0" y1="187.2" x2="227.8" y2="187.2" stroke="#999" stroke-width="0.3"/>
<text x="225.0" y="196.15" font-size="3.0" fill="#333" style="color:#333" stroke-width="0.100" text-anchor="end" font-weight="normal" >0</text>
<line x1="227.0" y1="195.1" x2="227.8" y2="195.1" stroke="#999" stroke-width="0.3"/>
<text x="225.0" y="204.45000000000002" font-size="3.0" fill="#333" style="color:#333" stroke-width="0.100" text-anchor="end" font-weight="normal" >-200</text>
<line x1="227.0" y1="203.4" x2="227.8" y2="203.4" stroke="#999" stroke-width="0.3"/>
<text x="225.0" y="212.15" font-size="3.0" fill="#333" style="color:#333" stroke-width="0.100" text-anchor="end" font-weight="normal" >-400</text>
<line x1="227.0" y1="211.1" x2="227.8" y2="211.1" stroke="#999" stroke-width="0.3"/>
<text x="225.0" y="219.95000000000002" font-size="3.0" fill="#333" style="color:#333" stroke-width="0.100" text-anchor="end" font-weight="normal" >-600</text>
<line x1="227.0" y1="218.9" x2="227.8" y2="218.9" stroke="#999" stroke-width="0.3"/>
<text x="264.2" y="176.8" font-size="4.4" fill="#e03030" style="color:#e03030" stroke-width="0.000" text-anchor="start" font-weight="bold" >Plane 1</text>
<clipPath id="p1"><rect x="227.0" y="178.2" width="89.80000000000001" height="45.80000000000001"/></clipPath>
<g clip-path="url(#p1)" fill="none" stroke-width="0.9" stroke-linejoin="round">
<path d="M227.30,194.50 L228.60,192.90 L230.20,198.60 L231.50,194.90 L232.80,199.30 L234.70,220.80 L236.35,210.90 L238.00,201.00 L241.00,196.50 L242.72,195.56 L244.44,194.62 L246.16,193.68 L247.88,192.81 L249.60,191.80 L251.27,191.42 L252.95,191.48 L254.62,192.08 L256.29,193.50 L257.96,193.19 L259.64,194.50 L261.31,194.41 L262.98,195.09 L264.65,193.49 L266.33,194.08 L268.00,195.00 L269.64,193.85 L271.29,194.51 L272.93,194.14 L274.57,193.39 L276.21,194.20 L277.86,193.12 L279.50,193.37 L281.14,193.07 L282.79,194.00 L284.43,193.05 L286.07,192.56 L287.71,191.95 L289.36,192.54 L291.00,192.50 L292.62,192.72 L294.25,192.79 L295.88,193.23 L297.50,192.99 L299.12,191.84 L300.75,191.58 L302.38,192.80 L304.00,192.83 L305.62,192.24 L307.25,192.85 L308.88,192.26 L310.50,191.68 L312.12,191.43 L313.75,191.10 L315.38,192.32 L317.00,192.00" stroke="#787888" stroke-width="1.0" opacity="0.95"/>
<path d="M227.30,194.50 L228.60,191.90 L230.20,199.60 L231.50,193.90 L232.80,200.30 L234.70,221.40 L236.35,211.20 L238.00,201.00 L241.00,197.00 L242.72,196.00 L244.44,195.00 L246.16,194.00 L247.88,193.79 L249.60,192.00 L251.27,193.16 L252.95,192.63 L254.62,193.37 L256.29,194.24 L257.96,194.36 L259.64,194.28 L261.31,194.25 L262.98,194.80 L264.65,194.45 L266.33,194.82 L268.00,195.80 L269.66,195.97 L271.33,196.38 L272.99,195.29 L274.66,194.82 L276.32,194.50 L277.99,194.51 L279.65,195.01 L281.31,194.11 L282.98,194.92 L284.64,193.11 L286.31,193.23 L287.97,193.44 L289.64,193.02 L291.30,193.00 L292.91,193.64 L294.51,193.53 L296.12,193.68 L297.73,192.97 L299.33,191.75 L300.94,192.77 L302.54,192.66 L304.15,192.48 L305.76,192.00 L307.36,192.79 L308.97,193.14 L310.57,191.45 L312.18,192.52 L313.79,191.87 L315.39,192.09 L317.00,192.00" stroke="#2a3ab8" stroke-width="0.9" opacity="0.95"/>
<path d="M227.30,194.50 L228.60,192.00 L230.20,199.50 L231.50,194.00 L232.80,200.20 L234.70,220.10 L236.35,210.55 L238.00,201.00 L241.00,196.00 L242.85,194.80 L244.70,193.60 L246.55,192.40 L248.40,191.20 L251.20,191.00 L252.96,192.26 L254.71,192.86 L256.47,192.70 L258.23,192.28 L259.99,194.20 L261.74,193.19 L263.50,194.30 L265.14,193.96 L266.77,194.74 L268.41,193.61 L270.04,193.42 L271.68,194.67 L273.31,194.55 L274.95,193.19 L276.58,193.24 L278.22,192.91 L279.85,192.50 L281.49,192.64 L283.12,193.99 L284.76,192.08 L286.39,192.28 L288.03,192.11 L289.66,191.76 L291.30,192.50 L292.91,192.52 L294.51,192.92 L296.12,193.08 L297.73,192.64 L299.33,192.98 L300.94,191.32 L302.54,191.85 L304.15,193.17 L305.76,191.36 L307.36,191.72 L308.97,192.12 L310.57,191.66 L312.18,192.19 L313.79,191.16 L315.39,191.50 L317.00,192.00" stroke="#e88a20" stroke-width="0.9" opacity="0.95"/>
<path d="M227.30,194.50 L228.60,192.80 L230.20,198.70 L231.50,194.80 L232.80,199.40 L234.70,220.00 L236.35,210.50 L238.00,201.00 L241.00,196.00 L242.85,194.88 L244.70,193.75 L246.55,192.62 L248.40,191.50 L250.20,192.07 L252.00,190.80 L253.64,190.55 L255.29,192.53 L256.93,191.53 L258.57,193.61 L260.21,193.43 L261.86,193.84 L263.50,194.00 L265.12,193.20 L266.74,192.93 L268.35,194.25 L269.97,193.00 L271.59,192.94 L273.21,194.12 L274.82,194.13 L276.44,192.39 L278.06,194.13 L279.68,193.19 L281.29,192.79 L282.91,192.16 L284.53,192.63 L286.15,193.74 L287.76,192.24 L289.38,191.85 L291.00,192.50 L292.62,191.76 L294.25,191.69 L295.88,192.11 L297.50,193.20 L299.12,191.50 L300.75,191.70 L302.38,193.16 L304.00,193.24 L305.62,193.18 L307.25,191.68 L308.88,191.86 L310.50,193.03 L312.12,192.06 L313.75,192.47 L315.38,191.66 L317.00,192.00" stroke="#e82828" stroke-width="0.9" opacity="0.95"/>
<path d="M227.30,194.50 L228.60,192.10 L230.20,199.40 L231.50,194.10 L232.80,200.10 L234.70,218.80 L236.35,209.90 L238.00,201.00 L240.60,190.00 L242.33,187.67 L244.07,185.33 L245.80,183.00 L247.53,181.44 L249.27,181.49 L251.00,181.20 L252.75,182.48 L254.50,183.34 L256.25,183.70 L258.00,184.28 L259.75,185.21 L261.50,185.81 L263.25,186.78 L265.00,187.50 L266.69,188.44 L268.38,187.45 L270.07,188.51 L271.76,189.46 L273.45,189.56 L275.15,188.50 L276.84,190.34 L278.53,190.36 L280.22,189.29 L281.91,189.76 L283.60,190.50 L285.27,189.98 L286.94,189.76 L288.61,191.68 L290.28,190.62 L291.95,191.62 L293.62,190.18 L295.29,190.05 L296.96,191.84 L298.63,191.76 L300.30,192.23 L301.97,191.70 L303.64,191.45 L305.31,192.01 L306.98,190.74 L308.65,191.71 L310.32,191.58 L311.99,191.07 L313.66,192.05 L315.33,191.57 L317.00,192.00" stroke="#7ed838" stroke-width="1.0" opacity="0.95"/>
<path d="M227.30,194.50 L228.60,193.10 L230.20,198.40 L231.50,195.10 L232.80,199.10 L234.70,219.20 L236.35,210.10 L238.00,201.00 L240.60,189.30 L242.33,186.90 L244.07,184.50 L245.80,182.10 L247.53,181.48 L249.27,180.58 L251.00,180.20 L252.75,180.64 L254.50,181.52 L256.25,182.80 L258.00,184.36 L259.75,185.07 L261.50,185.72 L263.25,186.47 L265.00,186.60 L266.82,186.56 L268.63,188.32 L270.45,187.29 L272.27,187.38 L274.08,188.52 L275.90,188.90 L277.82,189.56 L279.75,188.98 L281.68,189.79 L283.60,189.70 L285.53,189.84 L287.45,191.78 L289.38,191.33 L291.30,192.00 L292.91,191.96 L294.51,192.06 L296.12,192.75 L297.73,192.97 L299.33,192.06 L300.94,191.88 L302.54,192.24 L304.15,191.14 L305.76,191.85 L307.36,192.69 L308.97,192.55 L310.57,191.12 L312.18,192.71 L313.79,191.77 L315.39,192.96 L317.00,192.00" stroke="#22c852" stroke-width="1.1" opacity="0.95"/>
<path d="M227.30,194.50 L228.60,192.20 L230.20,199.30 L231.50,194.20 L232.80,200.00 L234.70,219.50 L236.35,210.25 L238.00,201.00 L241.00,191.50 L242.60,189.67 L244.20,187.83 L245.80,186.00 L247.70,184.98 L249.60,184.50 L251.40,184.68 L253.20,186.10 L255.00,187.52 L256.80,187.36 L258.60,188.98 L260.40,189.00 L262.17,189.92 L263.94,189.72 L265.71,190.10 L267.49,191.01 L269.26,191.30 L271.03,191.75 L272.80,192.50 L274.48,192.76 L276.16,193.16 L277.85,192.53 L279.53,191.61 L281.21,191.71 L282.89,191.97 L284.57,192.41 L286.25,191.42 L287.94,191.25 L289.62,191.69 L291.30,192.00 L292.91,191.57 L294.51,191.06 L296.12,192.08 L297.73,192.84 L299.33,192.07 L300.94,192.47 L302.54,192.66 L304.15,192.68 L305.76,192.83 L307.36,191.88 L308.97,192.36 L310.57,191.24 L312.18,192.76 L313.79,191.76 L315.39,191.95 L317.00,192.00" stroke="#d020d0" stroke-width="1.0" opacity="0.95"/>
<path d="M227.30,194.50 L228.60,192.50 L230.20,199.00 L231.50,194.50 L232.80,199.70 L234.70,219.80 L236.35,210.40 L238.00,201.00 L241.00,192.00 L242.60,190.33 L244.20,188.67 L245.80,187.00 L247.70,186.78 L249.60,185.00 L251.40,185.36 L253.20,185.95 L255.00,188.00 L256.80,188.33 L258.60,188.09 L260.40,189.70 L262.17,189.30 L263.94,190.49 L265.71,190.34 L267.49,192.54 L269.26,191.78 L271.03,192.51 L272.80,193.50 L274.48,193.14 L276.16,193.25 L277.85,192.96 L279.53,193.21 L281.21,193.14 L282.89,192.55 L284.57,191.74 L286.25,193.37 L287.94,192.66 L289.62,191.30 L291.30,192.00 L292.91,191.88 L294.51,192.51 L296.12,192.98 L297.73,191.13 L299.33,191.02 L300.94,191.96 L302.54,191.84 L304.15,192.79 L305.76,192.65 L307.36,191.66 L308.97,191.84 L310.57,192.17 L312.18,192.77 L313.79,191.40 L315.39,191.78 L317.00,192.00" stroke="#6a28b0" stroke-width="1.1" opacity="0.95"/>
</g>
<rect x="293.6" y="180.0" width="20.0" height="32.19999999999999" fill="#fff" stroke="#a0a0a0" stroke-width="0.4"/>
<line x1="294.70000000000005" y1="182.0125" x2="302.20000000000005" y2="182.0125" stroke="#f0a0a0" stroke-width="0.45"/>
<text x="304.6" y="183.21249999999998" font-size="3.4" fill="#111" style="color:#111" stroke-width="0.140" text-anchor="start" font-weight="normal" >225°</text>
<line x1="294.70000000000005" y1="186.0375" x2="302.20000000000005" y2="186.0375" stroke="#f0d080" stroke-width="0.45"/>
<text x="304.6" y="187.23749999999998" font-size="3.4" fill="#111" style="color:#111" stroke-width="0.140" text-anchor="start" font-weight="normal" >270°</text>
<line x1="294.70000000000005" y1="190.0625" x2="302.20000000000005" y2="190.0625" stroke="#a0e060" stroke-width="0.45"/>
<text x="304.6" y="191.2625" font-size="3.4" fill="#111" style="color:#111" stroke-width="0.140" text-anchor="start" font-weight="normal" >315°</text>
<line x1="294.70000000000005" y1="194.0875" x2="302.20000000000005" y2="194.0875" stroke="#60e0a0" stroke-width="0.45"/>
<text x="304.6" y="195.2875" font-size="3.4" fill="#111" style="color:#111" stroke-width="0.140" text-anchor="start" font-weight="normal" >0°</text>
<line x1="294.70000000000005" y1="198.11249999999998" x2="302.20000000000005" y2="198.11249999999998" stroke="#60c0f0" stroke-width="0.45"/>
<text x="304.6" y="199.31249999999997" font-size="3.4" fill="#111" style="color:#111" stroke-width="0.140" text-anchor="start" font-weight="normal" >45°</text>
<line x1="294.70000000000005" y1="202.1375" x2="302.20000000000005" y2="202.1375" stroke="#6080e0" stroke-width="0.45"/>
<text x="304.6" y="203.33749999999998" font-size="3.4" fill="#111" style="color:#111" stroke-width="0.140" text-anchor="start" font-weight="normal" >90°</text>
<line x1="294.70000000000005" y1="206.1625" x2="302.20000000000005" y2="206.1625" stroke="#a060e0" stroke-width="0.45"/>
<text x="304.6" y="207.36249999999998" font-size="3.4" fill="#111" style="color:#111" stroke-width="0.140" text-anchor="start" font-weight="normal" >135°</text>
<line x1="294.70000000000005" y1="210.1875" x2="302.20000000000005" y2="210.1875" stroke="#e060c0" stroke-width="0.45"/>
<text x="304.6" y="211.3875" font-size="3.4" fill="#111" style="color:#111" stroke-width="0.140" text-anchor="start" font-weight="normal" >180°</text>
<text x="226.8" y="228.9" font-size="3.0" fill="#333" style="color:#333" stroke-width="0.100" text-anchor="middle" font-weight="normal" >0</text>
<text x="244.6" y="228.9" font-size="3.0" fill="#333" style="color:#333" stroke-width="0.100" text-anchor="middle" font-weight="normal" >0.05</text>
<text x="262.3" y="228.9" font-size="3.0" fill="#333" style="color:#333" stroke-width="0.100" text-anchor="middle" font-weight="normal" >0.1</text>
<text x="280.0" y="228.9" font-size="3.0" fill="#333" style="color:#333" stroke-width="0.100" text-anchor="middle" font-weight="normal" >0.15</text>
<text x="297.6" y="228.9" font-size="3.0" fill="#333" style="color:#333" stroke-width="0.100" text-anchor="middle" font-weight="normal" >0.2</text>
<text x="315.6" y="228.9" font-size="3.0" fill="#333" style="color:#333" stroke-width="0.100" text-anchor="middle" font-weight="normal" >0.25</text>
<rect x="68.5" y="351.6" width="64.30000000000001" height="46.299999999999955" fill="#fff" stroke="#8a8a8a" stroke-width="0.55"/>
<text x="66.5" y="361.35" font-size="3.0" fill="#333" style="color:#333" stroke-width="0.100" text-anchor="end" font-weight="normal" >200</text>
<line x1="68.5" y1="360.3" x2="69.3" y2="360.3" stroke="#999" stroke-width="0.3"/>
<text x="66.5" y="369.95" font-size="3.0" fill="#333" style="color:#333" stroke-width="0.100" text-anchor="end" font-weight="normal" >0</text>
<line x1="68.5" y1="368.9" x2="69.3" y2="368.9" stroke="#999" stroke-width="0.3"/>
<text x="66.5" y="378.95" font-size="3.0" fill="#333" style="color:#333" stroke-width="0.100" text-anchor="end" font-weight="normal" >-200</text>
<line x1="68.5" y1="377.9" x2="69.3" y2="377.9" stroke="#999" stroke-width="0.3"/>
<text x="66.5" y="387.75" font-size="3.0" fill="#333" style="color:#333" stroke-width="0.100" text-anchor="end" font-weight="normal" >-400</text>
<line x1="68.5" y1="386.7" x2="69.3" y2="386.7" stroke="#999" stroke-width="0.3"/>
<text x="66.5" y="396.75" font-size="3.0" fill="#333" style="color:#333" stroke-width="0.100" text-anchor="end" font-weight="normal" >-600</text>
<line x1="68.5" y1="395.7" x2="69.3" y2="395.7" stroke="#999" stroke-width="0.3"/>
<text x="106.4" y="349.7" font-size="4.4" fill="#111" style="color:#111" stroke-width="0.000" text-anchor="start" font-weight="bold" >Plane 3</text>
<clipPath id="pd"><rect x="68.5" y="351.6" width="64.30000000000001" height="46.299999999999955"/></clipPath>
<g clip-path="url(#pd)" fill="none" stroke-width="0.9" stroke-linejoin="round">
<path d="M68.90,369.50 L70.30,367.00 L71.70,371.00 L72.80,374.00 L74.30,382.00 L75.60,386.00 L77.30,380.00 L79.50,371.00 L81.25,370.25 L83.00,369.50 L84.80,369.50 L86.60,369.50 L88.40,369.50 L90.20,368.68 L92.00,369.50 L93.61,370.23 L95.22,369.44 L96.83,371.70 L98.44,371.33 L100.06,371.87 L101.67,371.34 L103.28,372.08 L104.89,372.99 L106.50,373.50 L108.57,373.38 L110.63,371.91 L112.70,371.00 L114.53,370.07 L116.35,370.96 L118.17,369.82 L120.00,369.00 L121.62,368.93 L123.25,368.15 L124.88,368.22 L126.50,369.30 L128.12,367.64 L129.75,368.31 L131.38,368.36 L133.00,368.00" stroke="#d0c838" stroke-width="0.9" opacity="0.95"/>
<path d="M68.90,369.00 L70.30,366.50 L71.70,371.00 L72.80,375.00 L74.50,386.00 L75.90,394.40 L78.40,378.75 L80.90,367.50 L84.00,363.00 L86.00,361.50 L88.00,360.00 L90.00,359.46 L92.00,359.50 L93.60,360.54 L95.20,361.32 L96.80,361.72 L98.40,361.98 L100.00,362.00 L101.64,361.77 L103.27,361.85 L104.91,362.96 L106.55,363.08 L108.18,363.21 L109.82,364.92 L111.45,363.98 L113.09,365.55 L114.73,366.15 L116.36,364.88 L118.00,366.00 L119.67,366.94 L121.33,366.02 L123.00,365.76 L124.67,365.82 L126.33,365.63 L128.00,366.66 L129.67,366.55 L131.33,367.59 L133.00,367.00" stroke="#787888" stroke-width="0.9" opacity="0.95"/>
<path d="M68.90,369.50 L70.30,367.00 L71.70,371.00 L72.75,380.00 L74.00,383.75 L75.30,384.00 L77.30,377.00 L79.50,371.00 L81.75,370.00 L84.00,369.00 L85.60,368.95 L87.20,368.90 L88.80,368.85 L90.40,369.47 L92.00,368.75 L94.20,368.10 L95.96,367.89 L97.71,369.25 L99.47,369.89 L101.23,370.14 L102.99,370.96 L104.74,371.66 L106.50,372.80 L108.57,372.42 L110.63,370.95 L112.70,370.50 L114.53,369.22 L116.35,368.94 L118.17,368.88 L120.00,368.50 L121.62,368.57 L123.25,367.87 L124.88,368.71 L126.50,367.68 L128.12,368.53 L129.75,368.34 L131.38,367.41 L133.00,368.00" stroke="#22c852" stroke-width="0.9" opacity="0.95"/>
<path d="M68.90,369.00 L70.25,365.00 L71.70,371.00 L73.00,375.00 L74.80,380.00 L76.50,378.00 L78.50,371.00 L81.50,366.00 L83.70,364.50 L85.90,363.00 L87.77,362.63 L89.63,362.77 L91.50,361.90 L94.20,361.50 L96.04,362.31 L97.88,363.62 L99.72,364.76 L101.56,365.84 L103.40,366.60 L105.12,366.53 L106.84,365.80 L108.57,367.31 L110.29,367.50 L112.01,366.80 L113.73,367.02 L115.46,366.45 L117.18,367.75 L118.90,367.00 L120.66,367.37 L122.43,366.44 L124.19,367.63 L125.95,367.97 L127.71,366.69 L129.47,367.99 L131.24,366.97 L133.00,367.00" stroke="#e88a20" stroke-width="0.9" opacity="0.95"/>
<path d="M68.90,369.00 L70.30,366.50 L71.70,371.00 L73.00,374.00 L74.30,378.75 L75.60,377.00 L77.50,372.00 L80.50,367.50 L82.75,366.50 L85.00,365.50 L86.90,365.38 L88.80,365.25 L90.70,364.48 L92.60,365.00 L94.33,365.77 L96.07,365.34 L97.80,366.46 L99.53,366.50 L101.27,365.88 L103.00,367.00 L104.60,367.10 L106.20,367.78 L107.80,367.08 L109.40,367.24 L111.00,367.93 L112.60,367.13 L114.20,367.27 L115.80,367.49 L117.40,368.01 L119.00,367.40 L120.75,366.88 L122.50,366.74 L124.25,368.15 L126.00,367.81 L127.75,367.38 L129.50,368.63 L131.25,368.69 L133.00,368.00" stroke="#2a3ab8" stroke-width="0.9" opacity="0.95"/>
<path d="M68.90,369.00 L70.25,364.50 L71.70,371.00 L73.00,375.00 L74.80,381.00 L76.30,380.00 L78.30,372.00 L81.00,366.00 L83.00,364.00 L85.00,362.00 L87.00,361.50 L89.00,361.08 L91.00,360.50 L92.67,361.64 L94.33,361.51 L96.00,361.00 L97.67,361.83 L99.33,361.25 L101.00,361.02 L102.67,362.69 L104.33,363.14 L106.00,363.00 L107.75,363.08 L109.50,363.71 L111.25,364.26 L113.00,364.00 L114.75,365.27 L116.50,365.38 L118.25,365.40 L120.00,366.00 L121.62,365.45 L123.23,366.57 L124.85,366.34 L126.47,367.38 L128.08,366.51 L129.70,367.40 L131.35,367.29 L133.00,367.60" stroke="#e82828" stroke-width="0.9" opacity="0.95"/>
<path d="M68.90,369.00 L70.30,367.00 L71.70,372.00 L72.75,380.00 L74.00,383.75 L75.40,385.00 L77.30,378.00 L79.50,369.00 L81.75,365.75 L84.00,362.50 L85.88,360.00 L87.75,357.50 L89.62,355.64 L91.50,355.00 L92.60,354.60 L94.40,355.00 L96.20,355.92 L98.00,355.56 L99.80,356.04 L101.60,357.48 L103.40,358.10 L105.12,357.94 L106.84,358.98 L108.57,358.73 L110.29,359.03 L112.01,360.34 L113.73,361.55 L115.46,361.87 L117.18,361.60 L118.90,362.00 L120.66,362.12 L122.41,361.79 L124.17,362.54 L125.93,362.94 L127.69,364.53 L129.44,363.21 L131.20,364.30 L133.00,364.50" stroke="#20c8d8" stroke-width="1.1" opacity="0.95"/>
<path d="M68.90,369.00 L70.30,365.00 L71.70,371.50 L73.00,376.00 L74.80,382.00 L76.30,381.00 L78.30,372.00 L81.00,366.00 L84.00,361.00 L85.67,359.63 L87.33,358.27 L89.00,356.90 L90.73,357.70 L92.47,356.65 L94.20,356.60 L95.96,357.13 L97.71,357.44 L99.47,359.50 L101.23,358.60 L102.99,360.03 L104.74,360.56 L106.50,361.20 L108.27,361.14 L110.04,361.73 L111.81,363.80 L113.59,363.95 L115.36,364.38 L117.13,365.26 L118.90,365.00 L120.66,364.50 L122.43,366.01 L124.19,366.40 L125.95,365.65 L127.71,366.41 L129.47,367.75 L131.24,366.75 L133.00,367.40" stroke="#d020d0" stroke-width="1.0" opacity="0.95"/>
<path d="M68.90,369.00 L70.30,366.00 L71.50,370.00 L72.75,372.50 L75.25,370.60 L77.12,369.68 L79.00,368.75 L80.88,367.50 L82.75,366.25 L84.60,369.40 L86.80,368.45 L89.00,367.50 L90.88,367.40 L92.75,366.25 L94.53,365.64 L96.30,366.70 L98.08,365.96 L99.85,366.50 L101.62,366.29 L103.40,366.60 L105.12,367.43 L106.84,367.27 L108.57,366.87 L110.29,367.33 L112.01,366.90 L113.73,367.74 L115.46,366.74 L117.18,367.40 L118.90,367.40 L120.66,367.62 L122.43,367.28 L124.19,366.64 L125.95,366.94 L127.71,367.93 L129.47,367.12 L131.24,368.27 L133.00,367.80" stroke="#6a28b0" stroke-width="1.0" opacity="0.95"/>
</g>
<rect x="133.5" y="357.3" width="26.30000000000001" height="36.30000000000001" fill="#fff" stroke="#a0a0a0" stroke-width="0.4"/>
<line x1="134.6" y1="359.56875" x2="144.809" y2="359.56875" stroke="#60e0a0" stroke-width="0.45"/>
<text x="147.965" y="360.76875" font-size="3.4" fill="#111" style="color:#111" stroke-width="0.140" text-anchor="start" font-weight="normal" >0°</text>
<line x1="134.6" y1="364.10625" x2="144.809" y2="364.10625" stroke="#40e0e0" stroke-width="0.45"/>
<text x="147.965" y="365.30625" font-size="3.4" fill="#111" style="color:#111" stroke-width="0.140" text-anchor="start" font-weight="normal" >45°</text>
<line x1="134.6" y1="368.64375" x2="144.809" y2="368.64375" stroke="#6060ff" stroke-width="0.45"/>
<text x="147.965" y="369.84375" font-size="3.4" fill="#111" style="color:#111" stroke-width="0.140" text-anchor="start" font-weight="normal" >90°</text>
<line x1="134.6" y1="373.18125000000003" x2="144.809" y2="373.18125000000003" stroke="#c060ff" stroke-width="0.45"/>
<text x="147.965" y="374.38125" font-size="3.4" fill="#111" style="color:#111" stroke-width="0.140" text-anchor="start" font-weight="normal" >135°</text>
<line x1="134.6" y1="377.71875" x2="144.809" y2="377.71875" stroke="#e040c0" stroke-width="0.45"/>
<text x="147.965" y="378.91875" font-size="3.4" fill="#111" style="color:#111" stroke-width="0.140" text-anchor="start" font-weight="normal" >180°</text>
<line x1="134.6" y1="382.25625" x2="144.809" y2="382.25625" stroke="#e06090" stroke-width="0.45"/>
<text x="147.965" y="383.45625" font-size="3.4" fill="#111" style="color:#111" stroke-width="0.140" text-anchor="start" font-weight="normal" >225°</text>
<line x1="134.6" y1="386.79375000000005" x2="144.809" y2="386.79375000000005" stroke="#f0f060" stroke-width="0.45"/>
<text x="147.965" y="387.99375000000003" font-size="3.4" fill="#111" style="color:#111" stroke-width="0.140" text-anchor="start" font-weight="normal" >270°</text>
<line x1="134.6" y1="391.33125" x2="144.809" y2="391.33125" stroke="#e0f080" stroke-width="0.45"/>
<text x="147.965" y="392.53125" font-size="3.4" fill="#111" style="color:#111" stroke-width="0.140" text-anchor="start" font-weight="normal" >315°</text>
<text x="83.6" y="257.0" font-size="7.2" fill="#222" style="color:#222" stroke-width="0.200" text-anchor="start" font-weight="normal" >top view</text>
<text x="161.0" y="257.0" font-size="7.2" fill="#222" style="color:#222" stroke-width="0.200" text-anchor="start" font-weight="normal" >face view</text>
<circle cx="98.6" cy="295.0" r="27.3" fill="none" stroke="#848ca4" stroke-width="0.65"/>
<circle cx="98.6" cy="295.0" r="20.2" fill="none" stroke="#848ca4" stroke-width="0.65"/>
<circle cx="98.6" cy="295.8" r="6.1" fill="#cfcfcf"/>
<circle cx="83.2" cy="283.8" r="7.5" fill="#7a7a7a" stroke="#666666" stroke-width="0.4"/>
<circle cx="114.8" cy="283.8" r="7.5" fill="#7a7a7a" stroke="#666666" stroke-width="0.4"/>
<circle cx="98.6" cy="311.8" r="7.5" fill="#7a7a7a" stroke="#666666" stroke-width="0.4"/>
<polygon points="83.2,283.6 114.8,283.6 98.6,292.6" fill="#9cc8ec" stroke="#4a8cc8" stroke-width="0.5" opacity="0.8"/>
<rect x="83.2" y="282.8" width="31.6" height="3.2" fill="#4a8cc8" opacity="0.45"/>
<line x1="98.6" y1="263.2" x2="98.6" y2="322.6" stroke="#222" stroke-width="0.95"/>
<line x1="97.3" y1="269.7" x2="97.3" y2="278.4" stroke="#6a8ad0" stroke-width="1.0" opacity="0.7"/>
<text x="79.6" y="285.9" font-size="6.8" fill="#111" style="color:#111" stroke-width="0.000" text-anchor="middle" font-weight="bold" >B</text>
<text x="116.6" y="285.9" font-size="6.8" fill="#111" style="color:#111" stroke-width="0.000" text-anchor="middle" font-weight="bold" >C</text>
<text x="95.3" y="299.9" font-size="6.8" fill="#111" style="color:#111" stroke-width="0.000" text-anchor="middle" font-weight="bold" >A</text>
<text x="99.8" y="324.9" font-size="3.2" fill="#222" style="color:#222" stroke-width="0.100" text-anchor="start" font-weight="normal" >0°</text>
<polygon points="156.2,279.5 197.2,279.5 177,313.5" fill="#acd0f0" stroke="#5a9ad4" stroke-width="0.6"/>
<polygon points="156.2,279.5 197.2,279.5 191.2,289.2 162.3,289.2" fill="#5a9ad4" opacity="0.12"/>
<line x1="160.5" y1="289.2" x2="194" y2="289.2" stroke="#333" stroke-width="0.5"/>
<circle cx="155.2" cy="279.5" r="5.0" fill="#7c7c7c" stroke="#b0b0b0" stroke-width="0.9"/>
<text x="155.2" y="281.8" font-size="6.4" fill="#111" style="color:#111" stroke-width="0.000" text-anchor="middle" font-weight="bold" >C</text>
<circle cx="198.2" cy="279.5" r="5.0" fill="#7c7c7c" stroke="#b0b0b0" stroke-width="0.9"/>
<text x="198.2" y="281.8" font-size="6.4" fill="#111" style="color:#111" stroke-width="0.000" text-anchor="middle" font-weight="bold" >B</text>
<circle cx="177.3" cy="316.5" r="5.6" fill="#c6c6c6"/>
<text x="177.3" y="318.8" font-size="6.6" fill="#111" style="color:#111" stroke-width="0.000" text-anchor="middle" font-weight="bold" >A</text>
<line x1="177.5" y1="273.8" x2="177.5" y2="306" stroke="#111" stroke-width="0.8"/>
<polygon points="176.3,305 178.7,305 177.5,307.5" fill="#111"/>
<text x="173.9" y="271.8" font-size="3.3" fill="#111" style="color:#111" stroke-width="0.150" text-anchor="start" font-weight="normal" >180°</text>
<text x="155.9" y="293.2" font-size="3.3" fill="#111" style="color:#111" stroke-width="0.150" text-anchor="start" font-weight="normal" >270°</text>
<text x="191.6" y="293.2" font-size="3.3" fill="#111" style="color:#111" stroke-width="0.150" text-anchor="start" font-weight="normal" >90°</text>
<text x="178.2" y="305.8" font-size="3.3" fill="#111" style="color:#111" stroke-width="0.150" text-anchor="start" font-weight="normal" >0°</text>
<rect x="187.2" y="336.7" width="52.70000000000002" height="6.13" fill="#dbe6f2"/>
<line x1="166.9" y1="336.7" x2="239.9" y2="336.7" stroke="#3a3a3a" stroke-width="0.55"/>
<line x1="166.9" y1="342.83" x2="239.9" y2="342.83" stroke="#3a3a3a" stroke-width="0.55"/>
<line x1="166.9" y1="348.96" x2="239.9" y2="348.96" stroke="#3a3a3a" stroke-width="0.55"/>
<line x1="166.9" y1="355.09" x2="239.9" y2="355.09" stroke="#3a3a3a" stroke-width="0.55"/>
<line x1="166.9" y1="361.21999999999997" x2="239.9" y2="361.21999999999997" stroke="#3a3a3a" stroke-width="0.55"/>
<line x1="166.9" y1="367.34999999999997" x2="239.9" y2="367.34999999999997" stroke="#3a3a3a" stroke-width="0.55"/>
<line x1="166.9" y1="373.48" x2="239.9" y2="373.48" stroke="#3a3a3a" stroke-width="0.55"/>
<line x1="166.9" y1="379.61" x2="239.9" y2="379.61" stroke="#3a3a3a" stroke-width="0.55"/>
<line x1="166.9" y1="385.74" x2="239.9" y2="385.74" stroke="#3a3a3a" stroke-width="0.55"/>
<line x1="166.9" y1="391.87" x2="239.9" y2="391.87" stroke="#3a3a3a" stroke-width="0.55"/>
<line x1="166.9" y1="398.0" x2="239.9" y2="398.0" stroke="#3a3a3a" stroke-width="0.55"/>
<line x1="166.9" y1="336.7" x2="166.9" y2="398.0" stroke="#3a3a3a" stroke-width="0.55"/>
<line x1="187.2" y1="336.7" x2="187.2" y2="391.87" stroke="#3a3a3a" stroke-width="0.55"/>
<line x1="204.4" y1="336.7" x2="204.4" y2="391.87" stroke="#3a3a3a" stroke-width="0.55"/>
<line x1="222.7" y1="336.7" x2="222.7" y2="391.87" stroke="#3a3a3a" stroke-width="0.55"/>
<line x1="239.9" y1="336.7" x2="239.9" y2="398.0" stroke="#3a3a3a" stroke-width="0.55"/>
<text x="167.9" y="341.3" font-size="3.7" fill="#111" style="color:#111" stroke-width="0.120" text-anchor="start" font-weight="normal" >field angle</text>
<text x="195.8" y="341.3" font-size="3.7" fill="#111" style="color:#111" stroke-width="0.120" text-anchor="middle" font-weight="normal" >A</text>
<text x="213.55" y="341.3" font-size="3.7" fill="#111" style="color:#111" stroke-width="0.120" text-anchor="middle" font-weight="normal" >B</text>
<text x="231.3" y="341.3" font-size="3.7" fill="#111" style="color:#111" stroke-width="0.120" text-anchor="middle" font-weight="normal" >C</text>
<text x="177" y="347.43" font-size="3.7" fill="#111" style="color:#111" stroke-width="0.140" text-anchor="middle" font-weight="normal" >0°</text>
<text x="203.8" y="347.43" font-size="3.7" fill="#111" style="color:#111" stroke-width="0.140" text-anchor="end" font-weight="normal" >-0.50</text>
<text x="222.1" y="347.43" font-size="3.7" fill="#111" style="color:#111" stroke-width="0.140" text-anchor="end" font-weight="normal" >0.25</text>
<text x="239.3" y="347.43" font-size="3.7" fill="#111" style="color:#111" stroke-width="0.140" text-anchor="end" font-weight="normal" >0.25</text>
<text x="177" y="353.56" font-size="3.7" fill="#111" style="color:#111" stroke-width="0.140" text-anchor="middle" font-weight="normal" >45°</text>
<text x="203.8" y="353.56" font-size="3.7" fill="#111" style="color:#111" stroke-width="0.140" text-anchor="end" font-weight="normal" >-0.36</text>
<text x="222.1" y="353.56" font-size="3.7" fill="#111" style="color:#111" stroke-width="0.140" text-anchor="end" font-weight="normal" >-0.12</text>
<text x="239.3" y="353.56" font-size="3.7" fill="#111" style="color:#111" stroke-width="0.140" text-anchor="end" font-weight="normal" >0.48</text>
<text x="177" y="359.69" font-size="3.7" fill="#111" style="color:#111" stroke-width="0.140" text-anchor="middle" font-weight="normal" >90°</text>
<text x="203.8" y="359.69" font-size="3.7" fill="#111" style="color:#111" stroke-width="0.140" text-anchor="end" font-weight="normal" >0.00</text>
<text x="222.1" y="359.69" font-size="3.7" fill="#111" style="color:#111" stroke-width="0.140" text-anchor="end" font-weight="normal" >-0.50</text>
<text x="239.3" y="359.69" font-size="3.7" fill="#111" style="color:#111" stroke-width="0.140" text-anchor="end" font-weight="normal" >0.50</text>
<text x="177" y="365.82" font-size="3.7" fill="#111" style="color:#111" stroke-width="0.140" text-anchor="middle" font-weight="normal" >135°</text>
<text x="203.8" y="365.82" font-size="3.7" fill="#111" style="color:#111" stroke-width="0.140" text-anchor="end" font-weight="normal" >0.36</text>
<text x="222.1" y="365.82" font-size="3.7" fill="#111" style="color:#111" stroke-width="0.140" text-anchor="end" font-weight="normal" >-0.48</text>
<text x="239.3" y="365.82" font-size="3.7" fill="#111" style="color:#111" stroke-width="0.140" text-anchor="end" font-weight="normal" >0.12</text>
<text x="177" y="371.95" font-size="3.7" fill="#111" style="color:#111" stroke-width="0.140" text-anchor="middle" font-weight="normal" >180°</text>
<text x="203.8" y="371.95" font-size="3.7" fill="#111" style="color:#111" stroke-width="0.140" text-anchor="end" font-weight="normal" >0.50</text>
<text x="222.1" y="371.95" font-size="3.7" fill="#111" style="color:#111" stroke-width="0.140" text-anchor="end" font-weight="normal" >-0.25</text>
<text x="239.3" y="371.95" font-size="3.7" fill="#111" style="color:#111" stroke-width="0.140" text-anchor="end" font-weight="normal" >-0.25</text>
<text x="177" y="378.08000000000004" font-size="3.7" fill="#111" style="color:#111" stroke-width="0.140" text-anchor="middle" font-weight="normal" >225°</text>
<text x="203.8" y="378.08000000000004" font-size="3.7" fill="#111" style="color:#111" stroke-width="0.140" text-anchor="end" font-weight="normal" >0.36</text>
<text x="222.1" y="378.08000000000004" font-size="3.7" fill="#111" style="color:#111" stroke-width="0.140" text-anchor="end" font-weight="normal" >0.12</text>
<text x="239.3" y="378.08000000000004" font-size="3.7" fill="#111" style="color:#111" stroke-width="0.140" text-anchor="end" font-weight="normal" >-0.48</text>
<text x="177" y="384.21000000000004" font-size="3.7" fill="#111" style="color:#111" stroke-width="0.140" text-anchor="middle" font-weight="normal" >270°</text>
<text x="203.8" y="384.21000000000004" font-size="3.7" fill="#111" style="color:#111" stroke-width="0.140" text-anchor="end" font-weight="normal" >0.00</text>
<text x="222.1" y="384.21000000000004" font-size="3.7" fill="#111" style="color:#111" stroke-width="0.140" text-anchor="end" font-weight="normal" >0.50</text>
<text x="239.3" y="384.21000000000004" font-size="3.7" fill="#111" style="color:#111" stroke-width="0.140" text-anchor="end" font-weight="normal" >-0.50</text>
<text x="177" y="390.34000000000003" font-size="3.7" fill="#111" style="color:#111" stroke-width="0.140" text-anchor="middle" font-weight="normal" >315°</text>
<text x="203.8" y="390.34000000000003" font-size="3.7" fill="#111" style="color:#111" stroke-width="0.140" text-anchor="end" font-weight="normal" >-0.36</text>
<text x="222.1" y="390.34000000000003" font-size="3.7" fill="#111" style="color:#111" stroke-width="0.140" text-anchor="end" font-weight="normal" >0.48</text>
<text x="239.3" y="390.34000000000003" font-size="3.7" fill="#111" style="color:#111" stroke-width="0.140" text-anchor="end" font-weight="normal" >-0.12</text>
<text x="214.2" y="396.57" font-size="3.7" fill="#111" style="color:#111" stroke-width="0.120" text-anchor="middle" font-weight="normal" >current, mA</text>
</svg></div></div></body></html>
